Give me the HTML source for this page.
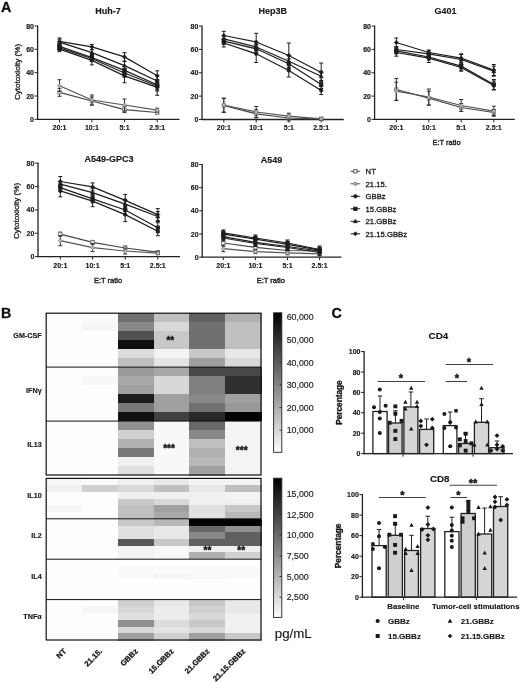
<!DOCTYPE html>
<html><head><meta charset="utf-8"><title>Figure</title>
<style>html,body{margin:0;padding:0;background:#fff}svg{display:block;font-family:"Liberation Sans",Arial,sans-serif}text:not([stroke]){stroke:#1a1a1a;stroke-width:.15px}</style>
</head><body>
<svg width="520" height="682" viewBox="0 0 520 682">
<rect width="520" height="682" fill="#ffffff"/>
<text x="108.0" y="13.9" font-size="9" font-weight="bold" text-anchor="middle" fill="#1a1a1a" >Huh-7</text>
<line x1="37.6" y1="25.5" x2="37.6" y2="119.9" stroke="#222" stroke-width="1.3"/>
<line x1="37.0" y1="119.3" x2="179.5" y2="119.3" stroke="#222" stroke-width="1.3"/>
<line x1="34.6" y1="119.3" x2="37.6" y2="119.3" stroke="#222" stroke-width="1"/>
<text x="34.0" y="121.8" font-size="7" font-weight="bold" text-anchor="end" fill="#1a1a1a" >0</text>
<line x1="34.6" y1="96.0" x2="37.6" y2="96.0" stroke="#222" stroke-width="1"/>
<text x="34.0" y="98.5" font-size="7" font-weight="bold" text-anchor="end" fill="#1a1a1a" >20</text>
<line x1="34.6" y1="72.7" x2="37.6" y2="72.7" stroke="#222" stroke-width="1"/>
<text x="34.0" y="75.2" font-size="7" font-weight="bold" text-anchor="end" fill="#1a1a1a" >40</text>
<line x1="34.6" y1="49.3" x2="37.6" y2="49.3" stroke="#222" stroke-width="1"/>
<text x="34.0" y="51.8" font-size="7" font-weight="bold" text-anchor="end" fill="#1a1a1a" >60</text>
<line x1="34.6" y1="26.0" x2="37.6" y2="26.0" stroke="#222" stroke-width="1"/>
<text x="34.0" y="28.5" font-size="7" font-weight="bold" text-anchor="end" fill="#1a1a1a" >80</text>
<line x1="59.5" y1="119.3" x2="59.5" y2="122.3" stroke="#222" stroke-width="1"/>
<text x="59.5" y="130.1" font-size="7" font-weight="bold" text-anchor="middle" fill="#1a1a1a" >20:1</text>
<line x1="91.9" y1="119.3" x2="91.9" y2="122.3" stroke="#222" stroke-width="1"/>
<text x="91.9" y="130.1" font-size="7" font-weight="bold" text-anchor="middle" fill="#1a1a1a" >10:1</text>
<line x1="124.5" y1="119.3" x2="124.5" y2="122.3" stroke="#222" stroke-width="1"/>
<text x="124.5" y="130.1" font-size="7" font-weight="bold" text-anchor="middle" fill="#1a1a1a" >5:1</text>
<line x1="157.2" y1="119.3" x2="157.2" y2="122.3" stroke="#222" stroke-width="1"/>
<text x="157.2" y="130.1" font-size="7" font-weight="bold" text-anchor="middle" fill="#1a1a1a" >2.5:1</text>
<text transform="translate(19.5,72) rotate(-90)" font-size="8.1" text-anchor="middle" fill="#1a1a1a" stroke="#1a1a1a" stroke-width="0.3">Cytotoxicity (%)</text>
<polyline points="59.5,92.3 91.9,101.0 124.5,109.6 157.2,112.5" fill="none" stroke="#484848" stroke-width="1.25"/>
<line x1="59.5" y1="88.3" x2="59.5" y2="96.3" stroke="#333" stroke-width="1"/>
<line x1="57.5" y1="88.3" x2="61.5" y2="88.3" stroke="#333" stroke-width="1"/>
<line x1="57.5" y1="96.3" x2="61.5" y2="96.3" stroke="#333" stroke-width="1"/>
<rect x="57.8" y="90.6" width="3.4" height="3.4" fill="#e8e8e8" stroke="#777" stroke-width="0.8"/>
<line x1="91.9" y1="97.0" x2="91.9" y2="105.0" stroke="#333" stroke-width="1"/>
<line x1="89.9" y1="97.0" x2="93.9" y2="97.0" stroke="#333" stroke-width="1"/>
<line x1="89.9" y1="105.0" x2="93.9" y2="105.0" stroke="#333" stroke-width="1"/>
<rect x="90.2" y="99.3" width="3.4" height="3.4" fill="#e8e8e8" stroke="#777" stroke-width="0.8"/>
<line x1="124.5" y1="106.6" x2="124.5" y2="112.6" stroke="#333" stroke-width="1"/>
<line x1="122.5" y1="106.6" x2="126.5" y2="106.6" stroke="#333" stroke-width="1"/>
<line x1="122.5" y1="112.6" x2="126.5" y2="112.6" stroke="#333" stroke-width="1"/>
<rect x="122.8" y="107.9" width="3.4" height="3.4" fill="#e8e8e8" stroke="#777" stroke-width="0.8"/>
<line x1="157.2" y1="111.0" x2="157.2" y2="114.0" stroke="#333" stroke-width="1"/>
<line x1="155.2" y1="111.0" x2="159.2" y2="111.0" stroke="#333" stroke-width="1"/>
<line x1="155.2" y1="114.0" x2="159.2" y2="114.0" stroke="#333" stroke-width="1"/>
<rect x="155.5" y="110.8" width="3.4" height="3.4" fill="#e8e8e8" stroke="#777" stroke-width="0.8"/>
<polyline points="59.5,85.7 91.9,100.0 124.5,105.0 157.2,110.2" fill="none" stroke="#555555" stroke-width="1.25"/>
<line x1="59.5" y1="79.7" x2="59.5" y2="91.7" stroke="#333" stroke-width="1"/>
<line x1="57.5" y1="79.7" x2="61.5" y2="79.7" stroke="#333" stroke-width="1"/>
<line x1="57.5" y1="91.7" x2="61.5" y2="91.7" stroke="#333" stroke-width="1"/>
<polygon points="59.5,83.7 57.5,85.7 59.5,87.7 61.5,85.7" fill="#bbb" stroke="#777" stroke-width="0.8"/>
<line x1="91.9" y1="95.0" x2="91.9" y2="105.0" stroke="#333" stroke-width="1"/>
<line x1="89.9" y1="95.0" x2="93.9" y2="95.0" stroke="#333" stroke-width="1"/>
<line x1="89.9" y1="105.0" x2="93.9" y2="105.0" stroke="#333" stroke-width="1"/>
<polygon points="91.9,98.0 89.9,100.0 91.9,102.0 93.9,100.0" fill="#bbb" stroke="#777" stroke-width="0.8"/>
<line x1="124.5" y1="99.0" x2="124.5" y2="111.0" stroke="#333" stroke-width="1"/>
<line x1="122.5" y1="99.0" x2="126.5" y2="99.0" stroke="#333" stroke-width="1"/>
<line x1="122.5" y1="111.0" x2="126.5" y2="111.0" stroke="#333" stroke-width="1"/>
<polygon points="124.5,103.0 122.5,105.0 124.5,107.0 126.5,105.0" fill="#bbb" stroke="#777" stroke-width="0.8"/>
<line x1="157.2" y1="108.2" x2="157.2" y2="112.2" stroke="#333" stroke-width="1"/>
<line x1="155.2" y1="108.2" x2="159.2" y2="108.2" stroke="#333" stroke-width="1"/>
<line x1="155.2" y1="112.2" x2="159.2" y2="112.2" stroke="#333" stroke-width="1"/>
<polygon points="157.2,108.2 155.2,110.2 157.2,112.2 159.2,110.2" fill="#bbb" stroke="#777" stroke-width="0.8"/>
<polyline points="59.5,49.2 91.9,60.4 124.5,75.8 157.2,87.3" fill="none" stroke="#1e1e1e" stroke-width="1.25"/>
<line x1="59.5" y1="46.7" x2="59.5" y2="51.7" stroke="#1e1e1e" stroke-width="1"/>
<line x1="57.5" y1="46.7" x2="61.5" y2="46.7" stroke="#1e1e1e" stroke-width="1"/>
<line x1="57.5" y1="51.7" x2="61.5" y2="51.7" stroke="#1e1e1e" stroke-width="1"/>
<circle cx="59.5" cy="49.2" r="1.7" fill="#1e1e1e" stroke="#1e1e1e" stroke-width="0.8"/>
<line x1="91.9" y1="55.9" x2="91.9" y2="64.9" stroke="#1e1e1e" stroke-width="1"/>
<line x1="89.9" y1="55.9" x2="93.9" y2="55.9" stroke="#1e1e1e" stroke-width="1"/>
<line x1="89.9" y1="64.9" x2="93.9" y2="64.9" stroke="#1e1e1e" stroke-width="1"/>
<circle cx="91.9" cy="60.4" r="1.7" fill="#1e1e1e" stroke="#1e1e1e" stroke-width="0.8"/>
<line x1="124.5" y1="68.8" x2="124.5" y2="82.8" stroke="#1e1e1e" stroke-width="1"/>
<line x1="122.5" y1="68.8" x2="126.5" y2="68.8" stroke="#1e1e1e" stroke-width="1"/>
<line x1="122.5" y1="82.8" x2="126.5" y2="82.8" stroke="#1e1e1e" stroke-width="1"/>
<circle cx="124.5" cy="75.8" r="1.7" fill="#1e1e1e" stroke="#1e1e1e" stroke-width="0.8"/>
<line x1="157.2" y1="79.3" x2="157.2" y2="95.3" stroke="#1e1e1e" stroke-width="1"/>
<line x1="155.2" y1="79.3" x2="159.2" y2="79.3" stroke="#1e1e1e" stroke-width="1"/>
<line x1="155.2" y1="95.3" x2="159.2" y2="95.3" stroke="#1e1e1e" stroke-width="1"/>
<circle cx="157.2" cy="87.3" r="1.7" fill="#1e1e1e" stroke="#1e1e1e" stroke-width="0.8"/>
<polyline points="59.5,47.9 91.9,58.5 124.5,73.0 157.2,86.0" fill="none" stroke="#1e1e1e" stroke-width="1.25"/>
<line x1="59.5" y1="45.4" x2="59.5" y2="50.4" stroke="#1e1e1e" stroke-width="1"/>
<line x1="57.5" y1="45.4" x2="61.5" y2="45.4" stroke="#1e1e1e" stroke-width="1"/>
<line x1="57.5" y1="50.4" x2="61.5" y2="50.4" stroke="#1e1e1e" stroke-width="1"/>
<rect x="57.8" y="46.2" width="3.4" height="3.4" fill="#1e1e1e" stroke="#1e1e1e" stroke-width="0.8"/>
<line x1="91.9" y1="55.5" x2="91.9" y2="61.5" stroke="#1e1e1e" stroke-width="1"/>
<line x1="89.9" y1="55.5" x2="93.9" y2="55.5" stroke="#1e1e1e" stroke-width="1"/>
<line x1="89.9" y1="61.5" x2="93.9" y2="61.5" stroke="#1e1e1e" stroke-width="1"/>
<rect x="90.2" y="56.8" width="3.4" height="3.4" fill="#1e1e1e" stroke="#1e1e1e" stroke-width="0.8"/>
<line x1="124.5" y1="69.0" x2="124.5" y2="77.0" stroke="#1e1e1e" stroke-width="1"/>
<line x1="122.5" y1="69.0" x2="126.5" y2="69.0" stroke="#1e1e1e" stroke-width="1"/>
<line x1="122.5" y1="77.0" x2="126.5" y2="77.0" stroke="#1e1e1e" stroke-width="1"/>
<rect x="122.8" y="71.3" width="3.4" height="3.4" fill="#1e1e1e" stroke="#1e1e1e" stroke-width="0.8"/>
<line x1="157.2" y1="81.0" x2="157.2" y2="91.0" stroke="#1e1e1e" stroke-width="1"/>
<line x1="155.2" y1="81.0" x2="159.2" y2="81.0" stroke="#1e1e1e" stroke-width="1"/>
<line x1="155.2" y1="91.0" x2="159.2" y2="91.0" stroke="#1e1e1e" stroke-width="1"/>
<rect x="155.5" y="84.3" width="3.4" height="3.4" fill="#1e1e1e" stroke="#1e1e1e" stroke-width="0.8"/>
<polyline points="59.5,46.3 91.9,57.5 124.5,70.4 157.2,84.8" fill="none" stroke="#1e1e1e" stroke-width="1.25"/>
<line x1="59.5" y1="43.8" x2="59.5" y2="48.8" stroke="#1e1e1e" stroke-width="1"/>
<line x1="57.5" y1="43.8" x2="61.5" y2="43.8" stroke="#1e1e1e" stroke-width="1"/>
<line x1="57.5" y1="48.8" x2="61.5" y2="48.8" stroke="#1e1e1e" stroke-width="1"/>
<rect x="57.8" y="44.6" width="3.4" height="3.4" fill="#1e1e1e" stroke="#1e1e1e" stroke-width="0.8"/>
<line x1="91.9" y1="54.5" x2="91.9" y2="60.5" stroke="#1e1e1e" stroke-width="1"/>
<line x1="89.9" y1="54.5" x2="93.9" y2="54.5" stroke="#1e1e1e" stroke-width="1"/>
<line x1="89.9" y1="60.5" x2="93.9" y2="60.5" stroke="#1e1e1e" stroke-width="1"/>
<rect x="90.2" y="55.8" width="3.4" height="3.4" fill="#1e1e1e" stroke="#1e1e1e" stroke-width="0.8"/>
<line x1="124.5" y1="66.4" x2="124.5" y2="74.4" stroke="#1e1e1e" stroke-width="1"/>
<line x1="122.5" y1="66.4" x2="126.5" y2="66.4" stroke="#1e1e1e" stroke-width="1"/>
<line x1="122.5" y1="74.4" x2="126.5" y2="74.4" stroke="#1e1e1e" stroke-width="1"/>
<rect x="122.8" y="68.7" width="3.4" height="3.4" fill="#1e1e1e" stroke="#1e1e1e" stroke-width="0.8"/>
<line x1="157.2" y1="79.8" x2="157.2" y2="89.8" stroke="#1e1e1e" stroke-width="1"/>
<line x1="155.2" y1="79.8" x2="159.2" y2="79.8" stroke="#1e1e1e" stroke-width="1"/>
<line x1="155.2" y1="89.8" x2="159.2" y2="89.8" stroke="#1e1e1e" stroke-width="1"/>
<rect x="155.5" y="83.1" width="3.4" height="3.4" fill="#1e1e1e" stroke="#1e1e1e" stroke-width="0.8"/>
<polyline points="59.5,42.2 91.9,52.7 124.5,65.6 157.2,81.0" fill="none" stroke="#1e1e1e" stroke-width="1.25"/>
<line x1="59.5" y1="39.2" x2="59.5" y2="45.2" stroke="#1e1e1e" stroke-width="1"/>
<line x1="57.5" y1="39.2" x2="61.5" y2="39.2" stroke="#1e1e1e" stroke-width="1"/>
<line x1="57.5" y1="45.2" x2="61.5" y2="45.2" stroke="#1e1e1e" stroke-width="1"/>
<polygon points="59.5,40.2 57.6,43.6 61.4,43.6" fill="#1e1e1e" stroke="#1e1e1e" stroke-width="0.8"/>
<line x1="91.9" y1="49.7" x2="91.9" y2="55.7" stroke="#1e1e1e" stroke-width="1"/>
<line x1="89.9" y1="49.7" x2="93.9" y2="49.7" stroke="#1e1e1e" stroke-width="1"/>
<line x1="89.9" y1="55.7" x2="93.9" y2="55.7" stroke="#1e1e1e" stroke-width="1"/>
<polygon points="91.9,50.7 90.0,54.1 93.8,54.1" fill="#1e1e1e" stroke="#1e1e1e" stroke-width="0.8"/>
<line x1="124.5" y1="61.6" x2="124.5" y2="69.6" stroke="#1e1e1e" stroke-width="1"/>
<line x1="122.5" y1="61.6" x2="126.5" y2="61.6" stroke="#1e1e1e" stroke-width="1"/>
<line x1="122.5" y1="69.6" x2="126.5" y2="69.6" stroke="#1e1e1e" stroke-width="1"/>
<polygon points="124.5,63.6 122.6,67.0 126.4,67.0" fill="#1e1e1e" stroke="#1e1e1e" stroke-width="0.8"/>
<line x1="157.2" y1="76.0" x2="157.2" y2="86.0" stroke="#1e1e1e" stroke-width="1"/>
<line x1="155.2" y1="76.0" x2="159.2" y2="76.0" stroke="#1e1e1e" stroke-width="1"/>
<line x1="155.2" y1="86.0" x2="159.2" y2="86.0" stroke="#1e1e1e" stroke-width="1"/>
<polygon points="157.2,79.0 155.3,82.4 159.1,82.4" fill="#1e1e1e" stroke="#1e1e1e" stroke-width="0.8"/>
<polyline points="59.5,41.4 91.9,46.9 124.5,56.9 157.2,75.8" fill="none" stroke="#1e1e1e" stroke-width="1.25"/>
<line x1="59.5" y1="38.0" x2="59.5" y2="44.8" stroke="#1e1e1e" stroke-width="1"/>
<line x1="57.5" y1="38.0" x2="61.5" y2="38.0" stroke="#1e1e1e" stroke-width="1"/>
<line x1="57.5" y1="44.8" x2="61.5" y2="44.8" stroke="#1e1e1e" stroke-width="1"/>
<polygon points="59.5,39.4 57.5,41.4 59.5,43.4 61.5,41.4" fill="#1e1e1e" stroke="#1e1e1e" stroke-width="0.8"/>
<line x1="91.9" y1="44.4" x2="91.9" y2="49.4" stroke="#1e1e1e" stroke-width="1"/>
<line x1="89.9" y1="44.4" x2="93.9" y2="44.4" stroke="#1e1e1e" stroke-width="1"/>
<line x1="89.9" y1="49.4" x2="93.9" y2="49.4" stroke="#1e1e1e" stroke-width="1"/>
<polygon points="91.9,44.9 89.9,46.9 91.9,48.9 93.9,46.9" fill="#1e1e1e" stroke="#1e1e1e" stroke-width="0.8"/>
<line x1="124.5" y1="52.7" x2="124.5" y2="61.1" stroke="#1e1e1e" stroke-width="1"/>
<line x1="122.5" y1="52.7" x2="126.5" y2="52.7" stroke="#1e1e1e" stroke-width="1"/>
<line x1="122.5" y1="61.1" x2="126.5" y2="61.1" stroke="#1e1e1e" stroke-width="1"/>
<polygon points="124.5,54.9 122.5,56.9 124.5,58.9 126.5,56.9" fill="#1e1e1e" stroke="#1e1e1e" stroke-width="0.8"/>
<line x1="157.2" y1="70.8" x2="157.2" y2="80.8" stroke="#1e1e1e" stroke-width="1"/>
<line x1="155.2" y1="70.8" x2="159.2" y2="70.8" stroke="#1e1e1e" stroke-width="1"/>
<line x1="155.2" y1="80.8" x2="159.2" y2="80.8" stroke="#1e1e1e" stroke-width="1"/>
<polygon points="157.2,73.8 155.2,75.8 157.2,77.8 159.2,75.8" fill="#1e1e1e" stroke="#1e1e1e" stroke-width="0.8"/>
<text x="272.8" y="13.9" font-size="9" font-weight="bold" text-anchor="middle" fill="#1a1a1a" >Hep3B</text>
<line x1="202.0" y1="25.5" x2="202.0" y2="120.1" stroke="#222" stroke-width="1.3"/>
<line x1="201.4" y1="119.5" x2="343.8" y2="119.5" stroke="#222" stroke-width="1.3"/>
<line x1="199.0" y1="119.5" x2="202.0" y2="119.5" stroke="#222" stroke-width="1"/>
<text x="198.4" y="122.0" font-size="7" font-weight="bold" text-anchor="end" fill="#1a1a1a" >0</text>
<line x1="199.0" y1="96.1" x2="202.0" y2="96.1" stroke="#222" stroke-width="1"/>
<text x="198.4" y="98.6" font-size="7" font-weight="bold" text-anchor="end" fill="#1a1a1a" >20</text>
<line x1="199.0" y1="72.8" x2="202.0" y2="72.8" stroke="#222" stroke-width="1"/>
<text x="198.4" y="75.2" font-size="7" font-weight="bold" text-anchor="end" fill="#1a1a1a" >40</text>
<line x1="199.0" y1="49.4" x2="202.0" y2="49.4" stroke="#222" stroke-width="1"/>
<text x="198.4" y="51.9" font-size="7" font-weight="bold" text-anchor="end" fill="#1a1a1a" >60</text>
<line x1="199.0" y1="26.0" x2="202.0" y2="26.0" stroke="#222" stroke-width="1"/>
<text x="198.4" y="28.5" font-size="7" font-weight="bold" text-anchor="end" fill="#1a1a1a" >80</text>
<line x1="223.8" y1="119.5" x2="223.8" y2="122.5" stroke="#222" stroke-width="1"/>
<text x="223.8" y="130.1" font-size="7" font-weight="bold" text-anchor="middle" fill="#1a1a1a" >20:1</text>
<line x1="256.2" y1="119.5" x2="256.2" y2="122.5" stroke="#222" stroke-width="1"/>
<text x="256.2" y="130.1" font-size="7" font-weight="bold" text-anchor="middle" fill="#1a1a1a" >10:1</text>
<line x1="288.8" y1="119.5" x2="288.8" y2="122.5" stroke="#222" stroke-width="1"/>
<text x="288.8" y="130.1" font-size="7" font-weight="bold" text-anchor="middle" fill="#1a1a1a" >5:1</text>
<line x1="321.2" y1="119.5" x2="321.2" y2="122.5" stroke="#222" stroke-width="1"/>
<text x="321.2" y="130.1" font-size="7" font-weight="bold" text-anchor="middle" fill="#1a1a1a" >2.5:1</text>
<polyline points="223.8,105.5 256.2,113.8 288.8,118.0 321.2,119.0" fill="none" stroke="#484848" stroke-width="1.25"/>
<line x1="223.8" y1="98.5" x2="223.8" y2="112.5" stroke="#333" stroke-width="1"/>
<line x1="221.8" y1="98.5" x2="225.8" y2="98.5" stroke="#333" stroke-width="1"/>
<line x1="221.8" y1="112.5" x2="225.8" y2="112.5" stroke="#333" stroke-width="1"/>
<rect x="222.1" y="103.8" width="3.4" height="3.4" fill="#e8e8e8" stroke="#777" stroke-width="0.8"/>
<line x1="256.2" y1="109.8" x2="256.2" y2="117.8" stroke="#333" stroke-width="1"/>
<line x1="254.2" y1="109.8" x2="258.2" y2="109.8" stroke="#333" stroke-width="1"/>
<line x1="254.2" y1="117.8" x2="258.2" y2="117.8" stroke="#333" stroke-width="1"/>
<rect x="254.5" y="112.0" width="3.4" height="3.4" fill="#e8e8e8" stroke="#777" stroke-width="0.8"/>
<line x1="288.8" y1="115.0" x2="288.8" y2="121.0" stroke="#333" stroke-width="1"/>
<line x1="286.8" y1="115.0" x2="290.8" y2="115.0" stroke="#333" stroke-width="1"/>
<line x1="286.8" y1="121.0" x2="290.8" y2="121.0" stroke="#333" stroke-width="1"/>
<rect x="287.1" y="116.3" width="3.4" height="3.4" fill="#e8e8e8" stroke="#777" stroke-width="0.8"/>
<line x1="321.2" y1="117.5" x2="321.2" y2="120.5" stroke="#333" stroke-width="1"/>
<line x1="319.2" y1="117.5" x2="323.2" y2="117.5" stroke="#333" stroke-width="1"/>
<line x1="319.2" y1="120.5" x2="323.2" y2="120.5" stroke="#333" stroke-width="1"/>
<rect x="319.5" y="117.3" width="3.4" height="3.4" fill="#e8e8e8" stroke="#777" stroke-width="0.8"/>
<polyline points="223.8,105.0 256.2,112.0 288.8,116.2 321.2,118.8" fill="none" stroke="#555555" stroke-width="1.25"/>
<line x1="223.8" y1="98.0" x2="223.8" y2="112.0" stroke="#333" stroke-width="1"/>
<line x1="221.8" y1="98.0" x2="225.8" y2="98.0" stroke="#333" stroke-width="1"/>
<line x1="221.8" y1="112.0" x2="225.8" y2="112.0" stroke="#333" stroke-width="1"/>
<polygon points="223.8,103.0 221.8,105.0 223.8,107.0 225.8,105.0" fill="#bbb" stroke="#777" stroke-width="0.8"/>
<line x1="256.2" y1="106.5" x2="256.2" y2="117.5" stroke="#333" stroke-width="1"/>
<line x1="254.2" y1="106.5" x2="258.2" y2="106.5" stroke="#333" stroke-width="1"/>
<line x1="254.2" y1="117.5" x2="258.2" y2="117.5" stroke="#333" stroke-width="1"/>
<polygon points="256.2,110.0 254.2,112.0 256.2,114.0 258.2,112.0" fill="#bbb" stroke="#777" stroke-width="0.8"/>
<line x1="288.8" y1="113.2" x2="288.8" y2="119.2" stroke="#333" stroke-width="1"/>
<line x1="286.8" y1="113.2" x2="290.8" y2="113.2" stroke="#333" stroke-width="1"/>
<line x1="286.8" y1="119.2" x2="290.8" y2="119.2" stroke="#333" stroke-width="1"/>
<polygon points="288.8,114.2 286.8,116.2 288.8,118.3 290.8,116.2" fill="#bbb" stroke="#777" stroke-width="0.8"/>
<line x1="321.2" y1="117.3" x2="321.2" y2="120.3" stroke="#333" stroke-width="1"/>
<line x1="319.2" y1="117.3" x2="323.2" y2="117.3" stroke="#333" stroke-width="1"/>
<line x1="319.2" y1="120.3" x2="323.2" y2="120.3" stroke="#333" stroke-width="1"/>
<polygon points="321.2,116.8 319.2,118.8 321.2,120.8 323.2,118.8" fill="#bbb" stroke="#777" stroke-width="0.8"/>
<polyline points="223.8,43.0 256.2,53.8 288.8,70.5 321.2,90.5" fill="none" stroke="#1e1e1e" stroke-width="1.25"/>
<line x1="223.8" y1="39.0" x2="223.8" y2="47.0" stroke="#1e1e1e" stroke-width="1"/>
<line x1="221.8" y1="39.0" x2="225.8" y2="39.0" stroke="#1e1e1e" stroke-width="1"/>
<line x1="221.8" y1="47.0" x2="225.8" y2="47.0" stroke="#1e1e1e" stroke-width="1"/>
<circle cx="223.8" cy="43.0" r="1.7" fill="#1e1e1e" stroke="#1e1e1e" stroke-width="0.8"/>
<line x1="256.2" y1="45.0" x2="256.2" y2="62.5" stroke="#1e1e1e" stroke-width="1"/>
<line x1="254.2" y1="45.0" x2="258.2" y2="45.0" stroke="#1e1e1e" stroke-width="1"/>
<line x1="254.2" y1="62.5" x2="258.2" y2="62.5" stroke="#1e1e1e" stroke-width="1"/>
<circle cx="256.2" cy="53.8" r="1.7" fill="#1e1e1e" stroke="#1e1e1e" stroke-width="0.8"/>
<line x1="288.8" y1="64.0" x2="288.8" y2="77.0" stroke="#1e1e1e" stroke-width="1"/>
<line x1="286.8" y1="64.0" x2="290.8" y2="64.0" stroke="#1e1e1e" stroke-width="1"/>
<line x1="286.8" y1="77.0" x2="290.8" y2="77.0" stroke="#1e1e1e" stroke-width="1"/>
<circle cx="288.8" cy="70.5" r="1.7" fill="#1e1e1e" stroke="#1e1e1e" stroke-width="0.8"/>
<line x1="321.2" y1="86.5" x2="321.2" y2="94.5" stroke="#1e1e1e" stroke-width="1"/>
<line x1="319.2" y1="86.5" x2="323.2" y2="86.5" stroke="#1e1e1e" stroke-width="1"/>
<line x1="319.2" y1="94.5" x2="323.2" y2="94.5" stroke="#1e1e1e" stroke-width="1"/>
<circle cx="321.2" cy="90.5" r="1.7" fill="#1e1e1e" stroke="#1e1e1e" stroke-width="0.8"/>
<polyline points="223.8,41.2 256.2,48.8 288.8,63.8 321.2,84.5" fill="none" stroke="#1e1e1e" stroke-width="1.25"/>
<line x1="223.8" y1="38.2" x2="223.8" y2="44.2" stroke="#1e1e1e" stroke-width="1"/>
<line x1="221.8" y1="38.2" x2="225.8" y2="38.2" stroke="#1e1e1e" stroke-width="1"/>
<line x1="221.8" y1="44.2" x2="225.8" y2="44.2" stroke="#1e1e1e" stroke-width="1"/>
<rect x="222.1" y="39.5" width="3.4" height="3.4" fill="#1e1e1e" stroke="#1e1e1e" stroke-width="0.8"/>
<line x1="256.2" y1="44.8" x2="256.2" y2="52.8" stroke="#1e1e1e" stroke-width="1"/>
<line x1="254.2" y1="44.8" x2="258.2" y2="44.8" stroke="#1e1e1e" stroke-width="1"/>
<line x1="254.2" y1="52.8" x2="258.2" y2="52.8" stroke="#1e1e1e" stroke-width="1"/>
<rect x="254.5" y="47.0" width="3.4" height="3.4" fill="#1e1e1e" stroke="#1e1e1e" stroke-width="0.8"/>
<line x1="288.8" y1="58.8" x2="288.8" y2="68.8" stroke="#1e1e1e" stroke-width="1"/>
<line x1="286.8" y1="58.8" x2="290.8" y2="58.8" stroke="#1e1e1e" stroke-width="1"/>
<line x1="286.8" y1="68.8" x2="290.8" y2="68.8" stroke="#1e1e1e" stroke-width="1"/>
<rect x="287.1" y="62.0" width="3.4" height="3.4" fill="#1e1e1e" stroke="#1e1e1e" stroke-width="0.8"/>
<line x1="321.2" y1="80.5" x2="321.2" y2="88.5" stroke="#1e1e1e" stroke-width="1"/>
<line x1="319.2" y1="80.5" x2="323.2" y2="80.5" stroke="#1e1e1e" stroke-width="1"/>
<line x1="319.2" y1="88.5" x2="323.2" y2="88.5" stroke="#1e1e1e" stroke-width="1"/>
<rect x="319.5" y="82.8" width="3.4" height="3.4" fill="#1e1e1e" stroke="#1e1e1e" stroke-width="0.8"/>
<polyline points="223.8,38.8 256.2,47.0 288.8,61.2 321.2,76.2" fill="none" stroke="#1e1e1e" stroke-width="1.25"/>
<line x1="223.8" y1="35.8" x2="223.8" y2="41.8" stroke="#1e1e1e" stroke-width="1"/>
<line x1="221.8" y1="35.8" x2="225.8" y2="35.8" stroke="#1e1e1e" stroke-width="1"/>
<line x1="221.8" y1="41.8" x2="225.8" y2="41.8" stroke="#1e1e1e" stroke-width="1"/>
<polygon points="223.8,36.8 221.9,40.2 225.7,40.2" fill="#1e1e1e" stroke="#1e1e1e" stroke-width="0.8"/>
<line x1="256.2" y1="43.0" x2="256.2" y2="51.0" stroke="#1e1e1e" stroke-width="1"/>
<line x1="254.2" y1="43.0" x2="258.2" y2="43.0" stroke="#1e1e1e" stroke-width="1"/>
<line x1="254.2" y1="51.0" x2="258.2" y2="51.0" stroke="#1e1e1e" stroke-width="1"/>
<polygon points="256.2,45.0 254.3,48.4 258.1,48.4" fill="#1e1e1e" stroke="#1e1e1e" stroke-width="0.8"/>
<line x1="288.8" y1="55.2" x2="288.8" y2="67.2" stroke="#1e1e1e" stroke-width="1"/>
<line x1="286.8" y1="55.2" x2="290.8" y2="55.2" stroke="#1e1e1e" stroke-width="1"/>
<line x1="286.8" y1="67.2" x2="290.8" y2="67.2" stroke="#1e1e1e" stroke-width="1"/>
<polygon points="288.8,59.3 286.9,62.7 290.7,62.7" fill="#1e1e1e" stroke="#1e1e1e" stroke-width="0.8"/>
<line x1="321.2" y1="71.2" x2="321.2" y2="81.2" stroke="#1e1e1e" stroke-width="1"/>
<line x1="319.2" y1="71.2" x2="323.2" y2="71.2" stroke="#1e1e1e" stroke-width="1"/>
<line x1="319.2" y1="81.2" x2="323.2" y2="81.2" stroke="#1e1e1e" stroke-width="1"/>
<polygon points="321.2,74.3 319.3,77.7 323.1,77.7" fill="#1e1e1e" stroke="#1e1e1e" stroke-width="0.8"/>
<polyline points="223.8,35.5 256.2,42.0 288.8,55.5 321.2,72.5" fill="none" stroke="#1e1e1e" stroke-width="1.25"/>
<line x1="223.8" y1="31.3" x2="223.8" y2="39.7" stroke="#1e1e1e" stroke-width="1"/>
<line x1="221.8" y1="31.3" x2="225.8" y2="31.3" stroke="#1e1e1e" stroke-width="1"/>
<line x1="221.8" y1="39.7" x2="225.8" y2="39.7" stroke="#1e1e1e" stroke-width="1"/>
<polygon points="223.8,33.5 221.8,35.5 223.8,37.5 225.8,35.5" fill="#1e1e1e" stroke="#1e1e1e" stroke-width="0.8"/>
<line x1="256.2" y1="33.3" x2="256.2" y2="50.7" stroke="#1e1e1e" stroke-width="1"/>
<line x1="254.2" y1="33.3" x2="258.2" y2="33.3" stroke="#1e1e1e" stroke-width="1"/>
<line x1="254.2" y1="50.7" x2="258.2" y2="50.7" stroke="#1e1e1e" stroke-width="1"/>
<polygon points="256.2,40.0 254.2,42.0 256.2,44.0 258.2,42.0" fill="#1e1e1e" stroke="#1e1e1e" stroke-width="0.8"/>
<line x1="288.8" y1="43.0" x2="288.8" y2="68.0" stroke="#1e1e1e" stroke-width="1"/>
<line x1="286.8" y1="43.0" x2="290.8" y2="43.0" stroke="#1e1e1e" stroke-width="1"/>
<line x1="286.8" y1="68.0" x2="290.8" y2="68.0" stroke="#1e1e1e" stroke-width="1"/>
<polygon points="288.8,53.5 286.8,55.5 288.8,57.5 290.8,55.5" fill="#1e1e1e" stroke="#1e1e1e" stroke-width="0.8"/>
<line x1="321.2" y1="63.0" x2="321.2" y2="82.0" stroke="#1e1e1e" stroke-width="1"/>
<line x1="319.2" y1="63.0" x2="323.2" y2="63.0" stroke="#1e1e1e" stroke-width="1"/>
<line x1="319.2" y1="82.0" x2="323.2" y2="82.0" stroke="#1e1e1e" stroke-width="1"/>
<polygon points="321.2,70.5 319.2,72.5 321.2,74.5 323.2,72.5" fill="#1e1e1e" stroke="#1e1e1e" stroke-width="0.8"/>
<text x="445.4" y="13.9" font-size="9" font-weight="bold" text-anchor="middle" fill="#1a1a1a" >G401</text>
<line x1="374.6" y1="25.5" x2="374.6" y2="120.0" stroke="#222" stroke-width="1.3"/>
<line x1="374.0" y1="119.4" x2="514.8" y2="119.4" stroke="#222" stroke-width="1.3"/>
<line x1="371.6" y1="119.4" x2="374.6" y2="119.4" stroke="#222" stroke-width="1"/>
<text x="371.0" y="121.9" font-size="7" font-weight="bold" text-anchor="end" fill="#1a1a1a" >0</text>
<line x1="371.6" y1="96.1" x2="374.6" y2="96.1" stroke="#222" stroke-width="1"/>
<text x="371.0" y="98.6" font-size="7" font-weight="bold" text-anchor="end" fill="#1a1a1a" >20</text>
<line x1="371.6" y1="72.7" x2="374.6" y2="72.7" stroke="#222" stroke-width="1"/>
<text x="371.0" y="75.2" font-size="7" font-weight="bold" text-anchor="end" fill="#1a1a1a" >40</text>
<line x1="371.6" y1="49.4" x2="374.6" y2="49.4" stroke="#222" stroke-width="1"/>
<text x="371.0" y="51.9" font-size="7" font-weight="bold" text-anchor="end" fill="#1a1a1a" >60</text>
<line x1="371.6" y1="26.0" x2="374.6" y2="26.0" stroke="#222" stroke-width="1"/>
<text x="371.0" y="28.5" font-size="7" font-weight="bold" text-anchor="end" fill="#1a1a1a" >80</text>
<line x1="396.3" y1="119.4" x2="396.3" y2="122.4" stroke="#222" stroke-width="1"/>
<text x="396.3" y="130.1" font-size="7" font-weight="bold" text-anchor="middle" fill="#1a1a1a" >20:1</text>
<line x1="428.8" y1="119.4" x2="428.8" y2="122.4" stroke="#222" stroke-width="1"/>
<text x="428.8" y="130.1" font-size="7" font-weight="bold" text-anchor="middle" fill="#1a1a1a" >10:1</text>
<line x1="461.2" y1="119.4" x2="461.2" y2="122.4" stroke="#222" stroke-width="1"/>
<text x="461.2" y="130.1" font-size="7" font-weight="bold" text-anchor="middle" fill="#1a1a1a" >5:1</text>
<line x1="493.8" y1="119.4" x2="493.8" y2="122.4" stroke="#222" stroke-width="1"/>
<text x="493.8" y="130.1" font-size="7" font-weight="bold" text-anchor="middle" fill="#1a1a1a" >2.5:1</text>
<text x="446.6" y="144.6" font-size="7.5" font-weight="normal" text-anchor="middle" fill="#1a1a1a" stroke="#1a1a1a" stroke-width="0.35">E:T ratio</text>
<polyline points="396.3,89.5 428.8,98.2 461.2,107.5 493.8,112.5" fill="none" stroke="#484848" stroke-width="1.25"/>
<line x1="396.3" y1="78.5" x2="396.3" y2="100.5" stroke="#333" stroke-width="1"/>
<line x1="394.3" y1="78.5" x2="398.3" y2="78.5" stroke="#333" stroke-width="1"/>
<line x1="394.3" y1="100.5" x2="398.3" y2="100.5" stroke="#333" stroke-width="1"/>
<rect x="394.6" y="87.8" width="3.4" height="3.4" fill="#e8e8e8" stroke="#777" stroke-width="0.8"/>
<line x1="428.8" y1="91.2" x2="428.8" y2="105.2" stroke="#333" stroke-width="1"/>
<line x1="426.8" y1="91.2" x2="430.8" y2="91.2" stroke="#333" stroke-width="1"/>
<line x1="426.8" y1="105.2" x2="430.8" y2="105.2" stroke="#333" stroke-width="1"/>
<rect x="427.1" y="96.5" width="3.4" height="3.4" fill="#e8e8e8" stroke="#777" stroke-width="0.8"/>
<line x1="461.2" y1="103.5" x2="461.2" y2="111.5" stroke="#333" stroke-width="1"/>
<line x1="459.2" y1="103.5" x2="463.2" y2="103.5" stroke="#333" stroke-width="1"/>
<line x1="459.2" y1="111.5" x2="463.2" y2="111.5" stroke="#333" stroke-width="1"/>
<rect x="459.5" y="105.8" width="3.4" height="3.4" fill="#e8e8e8" stroke="#777" stroke-width="0.8"/>
<line x1="493.8" y1="109.5" x2="493.8" y2="115.5" stroke="#333" stroke-width="1"/>
<line x1="491.8" y1="109.5" x2="495.8" y2="109.5" stroke="#333" stroke-width="1"/>
<line x1="491.8" y1="115.5" x2="495.8" y2="115.5" stroke="#333" stroke-width="1"/>
<rect x="492.1" y="110.8" width="3.4" height="3.4" fill="#e8e8e8" stroke="#777" stroke-width="0.8"/>
<polyline points="396.3,91.2 428.8,97.0 461.2,105.5 493.8,111.2" fill="none" stroke="#555555" stroke-width="1.25"/>
<line x1="396.3" y1="82.2" x2="396.3" y2="100.2" stroke="#333" stroke-width="1"/>
<line x1="394.3" y1="82.2" x2="398.3" y2="82.2" stroke="#333" stroke-width="1"/>
<line x1="394.3" y1="100.2" x2="398.3" y2="100.2" stroke="#333" stroke-width="1"/>
<polygon points="396.3,89.2 394.3,91.2 396.3,93.3 398.3,91.2" fill="#bbb" stroke="#777" stroke-width="0.8"/>
<line x1="428.8" y1="89.0" x2="428.8" y2="105.0" stroke="#333" stroke-width="1"/>
<line x1="426.8" y1="89.0" x2="430.8" y2="89.0" stroke="#333" stroke-width="1"/>
<line x1="426.8" y1="105.0" x2="430.8" y2="105.0" stroke="#333" stroke-width="1"/>
<polygon points="428.8,95.0 426.8,97.0 428.8,99.0 430.8,97.0" fill="#bbb" stroke="#777" stroke-width="0.8"/>
<line x1="461.2" y1="99.5" x2="461.2" y2="111.5" stroke="#333" stroke-width="1"/>
<line x1="459.2" y1="99.5" x2="463.2" y2="99.5" stroke="#333" stroke-width="1"/>
<line x1="459.2" y1="111.5" x2="463.2" y2="111.5" stroke="#333" stroke-width="1"/>
<polygon points="461.2,103.5 459.2,105.5 461.2,107.5 463.2,105.5" fill="#bbb" stroke="#777" stroke-width="0.8"/>
<line x1="493.8" y1="106.2" x2="493.8" y2="116.2" stroke="#333" stroke-width="1"/>
<line x1="491.8" y1="106.2" x2="495.8" y2="106.2" stroke="#333" stroke-width="1"/>
<line x1="491.8" y1="116.2" x2="495.8" y2="116.2" stroke="#333" stroke-width="1"/>
<polygon points="493.8,109.2 491.8,111.2 493.8,113.3 495.8,111.2" fill="#bbb" stroke="#777" stroke-width="0.8"/>
<polyline points="396.3,52.5 428.8,58.2 461.2,67.5 493.8,85.5" fill="none" stroke="#1e1e1e" stroke-width="1.25"/>
<line x1="396.3" y1="48.8" x2="396.3" y2="56.2" stroke="#1e1e1e" stroke-width="1"/>
<line x1="394.3" y1="48.8" x2="398.3" y2="48.8" stroke="#1e1e1e" stroke-width="1"/>
<line x1="394.3" y1="56.2" x2="398.3" y2="56.2" stroke="#1e1e1e" stroke-width="1"/>
<circle cx="396.3" cy="52.5" r="1.7" fill="#1e1e1e" stroke="#1e1e1e" stroke-width="0.8"/>
<line x1="428.8" y1="54.0" x2="428.8" y2="62.5" stroke="#1e1e1e" stroke-width="1"/>
<line x1="426.8" y1="54.0" x2="430.8" y2="54.0" stroke="#1e1e1e" stroke-width="1"/>
<line x1="426.8" y1="62.5" x2="430.8" y2="62.5" stroke="#1e1e1e" stroke-width="1"/>
<circle cx="428.8" cy="58.2" r="1.7" fill="#1e1e1e" stroke="#1e1e1e" stroke-width="0.8"/>
<line x1="461.2" y1="63.8" x2="461.2" y2="71.2" stroke="#1e1e1e" stroke-width="1"/>
<line x1="459.2" y1="63.8" x2="463.2" y2="63.8" stroke="#1e1e1e" stroke-width="1"/>
<line x1="459.2" y1="71.2" x2="463.2" y2="71.2" stroke="#1e1e1e" stroke-width="1"/>
<circle cx="461.2" cy="67.5" r="1.7" fill="#1e1e1e" stroke="#1e1e1e" stroke-width="0.8"/>
<line x1="493.8" y1="81.0" x2="493.8" y2="90.0" stroke="#1e1e1e" stroke-width="1"/>
<line x1="491.8" y1="81.0" x2="495.8" y2="81.0" stroke="#1e1e1e" stroke-width="1"/>
<line x1="491.8" y1="90.0" x2="495.8" y2="90.0" stroke="#1e1e1e" stroke-width="1"/>
<circle cx="493.8" cy="85.5" r="1.7" fill="#1e1e1e" stroke="#1e1e1e" stroke-width="0.8"/>
<polyline points="396.3,50.8 428.8,57.0 461.2,66.2 493.8,84.5" fill="none" stroke="#1e1e1e" stroke-width="1.25"/>
<line x1="396.3" y1="47.8" x2="396.3" y2="53.8" stroke="#1e1e1e" stroke-width="1"/>
<line x1="394.3" y1="47.8" x2="398.3" y2="47.8" stroke="#1e1e1e" stroke-width="1"/>
<line x1="394.3" y1="53.8" x2="398.3" y2="53.8" stroke="#1e1e1e" stroke-width="1"/>
<rect x="394.6" y="49.0" width="3.4" height="3.4" fill="#1e1e1e" stroke="#1e1e1e" stroke-width="0.8"/>
<line x1="428.8" y1="54.0" x2="428.8" y2="60.0" stroke="#1e1e1e" stroke-width="1"/>
<line x1="426.8" y1="54.0" x2="430.8" y2="54.0" stroke="#1e1e1e" stroke-width="1"/>
<line x1="426.8" y1="60.0" x2="430.8" y2="60.0" stroke="#1e1e1e" stroke-width="1"/>
<rect x="427.1" y="55.3" width="3.4" height="3.4" fill="#1e1e1e" stroke="#1e1e1e" stroke-width="0.8"/>
<line x1="461.2" y1="62.2" x2="461.2" y2="70.2" stroke="#1e1e1e" stroke-width="1"/>
<line x1="459.2" y1="62.2" x2="463.2" y2="62.2" stroke="#1e1e1e" stroke-width="1"/>
<line x1="459.2" y1="70.2" x2="463.2" y2="70.2" stroke="#1e1e1e" stroke-width="1"/>
<rect x="459.5" y="64.5" width="3.4" height="3.4" fill="#1e1e1e" stroke="#1e1e1e" stroke-width="0.8"/>
<line x1="493.8" y1="79.5" x2="493.8" y2="89.5" stroke="#1e1e1e" stroke-width="1"/>
<line x1="491.8" y1="79.5" x2="495.8" y2="79.5" stroke="#1e1e1e" stroke-width="1"/>
<line x1="491.8" y1="89.5" x2="495.8" y2="89.5" stroke="#1e1e1e" stroke-width="1"/>
<rect x="492.1" y="82.8" width="3.4" height="3.4" fill="#1e1e1e" stroke="#1e1e1e" stroke-width="0.8"/>
<polyline points="396.3,49.5 428.8,53.8 461.2,59.5 493.8,71.2" fill="none" stroke="#1e1e1e" stroke-width="1.25"/>
<line x1="396.3" y1="46.5" x2="396.3" y2="52.5" stroke="#1e1e1e" stroke-width="1"/>
<line x1="394.3" y1="46.5" x2="398.3" y2="46.5" stroke="#1e1e1e" stroke-width="1"/>
<line x1="394.3" y1="52.5" x2="398.3" y2="52.5" stroke="#1e1e1e" stroke-width="1"/>
<polygon points="396.3,47.5 394.4,50.9 398.2,50.9" fill="#1e1e1e" stroke="#1e1e1e" stroke-width="0.8"/>
<line x1="428.8" y1="50.8" x2="428.8" y2="56.8" stroke="#1e1e1e" stroke-width="1"/>
<line x1="426.8" y1="50.8" x2="430.8" y2="50.8" stroke="#1e1e1e" stroke-width="1"/>
<line x1="426.8" y1="56.8" x2="430.8" y2="56.8" stroke="#1e1e1e" stroke-width="1"/>
<polygon points="428.8,51.8 426.9,55.2 430.7,55.2" fill="#1e1e1e" stroke="#1e1e1e" stroke-width="0.8"/>
<line x1="461.2" y1="54.5" x2="461.2" y2="64.5" stroke="#1e1e1e" stroke-width="1"/>
<line x1="459.2" y1="54.5" x2="463.2" y2="54.5" stroke="#1e1e1e" stroke-width="1"/>
<line x1="459.2" y1="64.5" x2="463.2" y2="64.5" stroke="#1e1e1e" stroke-width="1"/>
<polygon points="461.2,57.5 459.3,60.9 463.1,60.9" fill="#1e1e1e" stroke="#1e1e1e" stroke-width="0.8"/>
<line x1="493.8" y1="66.2" x2="493.8" y2="76.2" stroke="#1e1e1e" stroke-width="1"/>
<line x1="491.8" y1="66.2" x2="495.8" y2="66.2" stroke="#1e1e1e" stroke-width="1"/>
<line x1="491.8" y1="76.2" x2="495.8" y2="76.2" stroke="#1e1e1e" stroke-width="1"/>
<polygon points="493.8,69.3 491.9,72.7 495.7,72.7" fill="#1e1e1e" stroke="#1e1e1e" stroke-width="0.8"/>
<polyline points="396.3,42.5 428.8,52.5 461.2,58.2 493.8,70.0" fill="none" stroke="#1e1e1e" stroke-width="1.25"/>
<line x1="396.3" y1="38.0" x2="396.3" y2="47.0" stroke="#1e1e1e" stroke-width="1"/>
<line x1="394.3" y1="38.0" x2="398.3" y2="38.0" stroke="#1e1e1e" stroke-width="1"/>
<line x1="394.3" y1="47.0" x2="398.3" y2="47.0" stroke="#1e1e1e" stroke-width="1"/>
<polygon points="396.3,40.5 394.3,42.5 396.3,44.5 398.3,42.5" fill="#1e1e1e" stroke="#1e1e1e" stroke-width="0.8"/>
<line x1="428.8" y1="50.0" x2="428.8" y2="55.0" stroke="#1e1e1e" stroke-width="1"/>
<line x1="426.8" y1="50.0" x2="430.8" y2="50.0" stroke="#1e1e1e" stroke-width="1"/>
<line x1="426.8" y1="55.0" x2="430.8" y2="55.0" stroke="#1e1e1e" stroke-width="1"/>
<polygon points="428.8,50.5 426.8,52.5 428.8,54.5 430.8,52.5" fill="#1e1e1e" stroke="#1e1e1e" stroke-width="0.8"/>
<line x1="461.2" y1="53.8" x2="461.2" y2="62.8" stroke="#1e1e1e" stroke-width="1"/>
<line x1="459.2" y1="53.8" x2="463.2" y2="53.8" stroke="#1e1e1e" stroke-width="1"/>
<line x1="459.2" y1="62.8" x2="463.2" y2="62.8" stroke="#1e1e1e" stroke-width="1"/>
<polygon points="461.2,56.2 459.2,58.2 461.2,60.3 463.2,58.2" fill="#1e1e1e" stroke="#1e1e1e" stroke-width="0.8"/>
<line x1="493.8" y1="64.5" x2="493.8" y2="75.5" stroke="#1e1e1e" stroke-width="1"/>
<line x1="491.8" y1="64.5" x2="495.8" y2="64.5" stroke="#1e1e1e" stroke-width="1"/>
<line x1="491.8" y1="75.5" x2="495.8" y2="75.5" stroke="#1e1e1e" stroke-width="1"/>
<polygon points="493.8,68.0 491.8,70.0 493.8,72.0 495.8,70.0" fill="#1e1e1e" stroke="#1e1e1e" stroke-width="0.8"/>
<text x="109.0" y="162.2" font-size="9" font-weight="bold" text-anchor="middle" fill="#1a1a1a" >A549-GPC3</text>
<line x1="38.0" y1="162.6" x2="38.0" y2="257.2" stroke="#222" stroke-width="1.3"/>
<line x1="37.4" y1="256.6" x2="180.0" y2="256.6" stroke="#222" stroke-width="1.3"/>
<line x1="35.0" y1="256.6" x2="38.0" y2="256.6" stroke="#222" stroke-width="1"/>
<text x="34.4" y="259.1" font-size="7" font-weight="bold" text-anchor="end" fill="#1a1a1a" >0</text>
<line x1="35.0" y1="233.2" x2="38.0" y2="233.2" stroke="#222" stroke-width="1"/>
<text x="34.4" y="235.7" font-size="7" font-weight="bold" text-anchor="end" fill="#1a1a1a" >20</text>
<line x1="35.0" y1="209.9" x2="38.0" y2="209.9" stroke="#222" stroke-width="1"/>
<text x="34.4" y="212.4" font-size="7" font-weight="bold" text-anchor="end" fill="#1a1a1a" >40</text>
<line x1="35.0" y1="186.5" x2="38.0" y2="186.5" stroke="#222" stroke-width="1"/>
<text x="34.4" y="189.0" font-size="7" font-weight="bold" text-anchor="end" fill="#1a1a1a" >60</text>
<line x1="35.0" y1="163.1" x2="38.0" y2="163.1" stroke="#222" stroke-width="1"/>
<text x="34.4" y="165.6" font-size="7" font-weight="bold" text-anchor="end" fill="#1a1a1a" >80</text>
<line x1="60.3" y1="256.6" x2="60.3" y2="259.6" stroke="#222" stroke-width="1"/>
<text x="60.3" y="267.5" font-size="7" font-weight="bold" text-anchor="middle" fill="#1a1a1a" >20:1</text>
<line x1="92.6" y1="256.6" x2="92.6" y2="259.6" stroke="#222" stroke-width="1"/>
<text x="92.6" y="267.5" font-size="7" font-weight="bold" text-anchor="middle" fill="#1a1a1a" >10:1</text>
<line x1="125.2" y1="256.6" x2="125.2" y2="259.6" stroke="#222" stroke-width="1"/>
<text x="125.2" y="267.5" font-size="7" font-weight="bold" text-anchor="middle" fill="#1a1a1a" >5:1</text>
<line x1="157.8" y1="256.6" x2="157.8" y2="259.6" stroke="#222" stroke-width="1"/>
<text x="157.8" y="267.5" font-size="7" font-weight="bold" text-anchor="middle" fill="#1a1a1a" >2.5:1</text>
<text transform="translate(19.3,211) rotate(-90)" font-size="8.1" text-anchor="middle" fill="#1a1a1a" stroke="#1a1a1a" stroke-width="0.3">Cytotoxicity (%)</text>
<text x="108.0" y="282.5" font-size="7.5" font-weight="normal" text-anchor="middle" fill="#1a1a1a" stroke="#1a1a1a" stroke-width="0.35">E:T ratio</text>
<polyline points="60.3,234.1 92.6,242.4 125.2,248.0 157.8,252.1" fill="none" stroke="#484848" stroke-width="1.25"/>
<line x1="60.3" y1="232.1" x2="60.3" y2="236.1" stroke="#333" stroke-width="1"/>
<line x1="58.3" y1="232.1" x2="62.3" y2="232.1" stroke="#333" stroke-width="1"/>
<line x1="58.3" y1="236.1" x2="62.3" y2="236.1" stroke="#333" stroke-width="1"/>
<rect x="58.6" y="232.4" width="3.4" height="3.4" fill="#e8e8e8" stroke="#777" stroke-width="0.8"/>
<line x1="92.6" y1="240.4" x2="92.6" y2="244.4" stroke="#333" stroke-width="1"/>
<line x1="90.6" y1="240.4" x2="94.6" y2="240.4" stroke="#333" stroke-width="1"/>
<line x1="90.6" y1="244.4" x2="94.6" y2="244.4" stroke="#333" stroke-width="1"/>
<rect x="90.9" y="240.7" width="3.4" height="3.4" fill="#e8e8e8" stroke="#777" stroke-width="0.8"/>
<line x1="125.2" y1="246.0" x2="125.2" y2="250.0" stroke="#333" stroke-width="1"/>
<line x1="123.2" y1="246.0" x2="127.2" y2="246.0" stroke="#333" stroke-width="1"/>
<line x1="123.2" y1="250.0" x2="127.2" y2="250.0" stroke="#333" stroke-width="1"/>
<rect x="123.5" y="246.3" width="3.4" height="3.4" fill="#e8e8e8" stroke="#777" stroke-width="0.8"/>
<line x1="157.8" y1="250.6" x2="157.8" y2="253.6" stroke="#333" stroke-width="1"/>
<line x1="155.8" y1="250.6" x2="159.8" y2="250.6" stroke="#333" stroke-width="1"/>
<line x1="155.8" y1="253.6" x2="159.8" y2="253.6" stroke="#333" stroke-width="1"/>
<rect x="156.1" y="250.4" width="3.4" height="3.4" fill="#e8e8e8" stroke="#777" stroke-width="0.8"/>
<polyline points="60.3,240.7 92.6,247.6 125.2,251.0 157.8,253.2" fill="none" stroke="#555555" stroke-width="1.25"/>
<line x1="60.3" y1="235.7" x2="60.3" y2="245.7" stroke="#333" stroke-width="1"/>
<line x1="58.3" y1="235.7" x2="62.3" y2="235.7" stroke="#333" stroke-width="1"/>
<line x1="58.3" y1="245.7" x2="62.3" y2="245.7" stroke="#333" stroke-width="1"/>
<polygon points="60.3,238.7 58.3,240.7 60.3,242.7 62.3,240.7" fill="#bbb" stroke="#777" stroke-width="0.8"/>
<line x1="92.6" y1="243.6" x2="92.6" y2="251.6" stroke="#333" stroke-width="1"/>
<line x1="90.6" y1="243.6" x2="94.6" y2="243.6" stroke="#333" stroke-width="1"/>
<line x1="90.6" y1="251.6" x2="94.6" y2="251.6" stroke="#333" stroke-width="1"/>
<polygon points="92.6,245.6 90.6,247.6 92.6,249.6 94.6,247.6" fill="#bbb" stroke="#777" stroke-width="0.8"/>
<line x1="125.2" y1="248.0" x2="125.2" y2="254.0" stroke="#333" stroke-width="1"/>
<line x1="123.2" y1="248.0" x2="127.2" y2="248.0" stroke="#333" stroke-width="1"/>
<line x1="123.2" y1="254.0" x2="127.2" y2="254.0" stroke="#333" stroke-width="1"/>
<polygon points="125.2,249.0 123.2,251.0 125.2,253.0 127.2,251.0" fill="#bbb" stroke="#777" stroke-width="0.8"/>
<line x1="157.8" y1="251.7" x2="157.8" y2="254.7" stroke="#333" stroke-width="1"/>
<line x1="155.8" y1="251.7" x2="159.8" y2="251.7" stroke="#333" stroke-width="1"/>
<line x1="155.8" y1="254.7" x2="159.8" y2="254.7" stroke="#333" stroke-width="1"/>
<polygon points="157.8,251.2 155.8,253.2 157.8,255.2 159.8,253.2" fill="#bbb" stroke="#777" stroke-width="0.8"/>
<polyline points="60.3,190.8 92.6,201.2 125.2,214.6 157.8,231.2" fill="none" stroke="#1e1e1e" stroke-width="1.25"/>
<line x1="60.3" y1="184.8" x2="60.3" y2="196.8" stroke="#1e1e1e" stroke-width="1"/>
<line x1="58.3" y1="184.8" x2="62.3" y2="184.8" stroke="#1e1e1e" stroke-width="1"/>
<line x1="58.3" y1="196.8" x2="62.3" y2="196.8" stroke="#1e1e1e" stroke-width="1"/>
<circle cx="60.3" cy="190.8" r="1.7" fill="#1e1e1e" stroke="#1e1e1e" stroke-width="0.8"/>
<line x1="92.6" y1="195.7" x2="92.6" y2="206.7" stroke="#1e1e1e" stroke-width="1"/>
<line x1="90.6" y1="195.7" x2="94.6" y2="195.7" stroke="#1e1e1e" stroke-width="1"/>
<line x1="90.6" y1="206.7" x2="94.6" y2="206.7" stroke="#1e1e1e" stroke-width="1"/>
<circle cx="92.6" cy="201.2" r="1.7" fill="#1e1e1e" stroke="#1e1e1e" stroke-width="0.8"/>
<line x1="125.2" y1="207.6" x2="125.2" y2="221.6" stroke="#1e1e1e" stroke-width="1"/>
<line x1="123.2" y1="207.6" x2="127.2" y2="207.6" stroke="#1e1e1e" stroke-width="1"/>
<line x1="123.2" y1="221.6" x2="127.2" y2="221.6" stroke="#1e1e1e" stroke-width="1"/>
<circle cx="125.2" cy="214.6" r="1.7" fill="#1e1e1e" stroke="#1e1e1e" stroke-width="0.8"/>
<line x1="157.8" y1="226.7" x2="157.8" y2="235.7" stroke="#1e1e1e" stroke-width="1"/>
<line x1="155.8" y1="226.7" x2="159.8" y2="226.7" stroke="#1e1e1e" stroke-width="1"/>
<line x1="155.8" y1="235.7" x2="159.8" y2="235.7" stroke="#1e1e1e" stroke-width="1"/>
<circle cx="157.8" cy="231.2" r="1.7" fill="#1e1e1e" stroke="#1e1e1e" stroke-width="0.8"/>
<polyline points="60.3,187.7 92.6,198.8 125.2,210.0 157.8,227.7" fill="none" stroke="#1e1e1e" stroke-width="1.25"/>
<line x1="60.3" y1="183.7" x2="60.3" y2="191.7" stroke="#1e1e1e" stroke-width="1"/>
<line x1="58.3" y1="183.7" x2="62.3" y2="183.7" stroke="#1e1e1e" stroke-width="1"/>
<line x1="58.3" y1="191.7" x2="62.3" y2="191.7" stroke="#1e1e1e" stroke-width="1"/>
<rect x="58.6" y="186.0" width="3.4" height="3.4" fill="#1e1e1e" stroke="#1e1e1e" stroke-width="0.8"/>
<line x1="92.6" y1="194.8" x2="92.6" y2="202.8" stroke="#1e1e1e" stroke-width="1"/>
<line x1="90.6" y1="194.8" x2="94.6" y2="194.8" stroke="#1e1e1e" stroke-width="1"/>
<line x1="90.6" y1="202.8" x2="94.6" y2="202.8" stroke="#1e1e1e" stroke-width="1"/>
<rect x="90.9" y="197.1" width="3.4" height="3.4" fill="#1e1e1e" stroke="#1e1e1e" stroke-width="0.8"/>
<line x1="125.2" y1="205.0" x2="125.2" y2="215.0" stroke="#1e1e1e" stroke-width="1"/>
<line x1="123.2" y1="205.0" x2="127.2" y2="205.0" stroke="#1e1e1e" stroke-width="1"/>
<line x1="123.2" y1="215.0" x2="127.2" y2="215.0" stroke="#1e1e1e" stroke-width="1"/>
<rect x="123.5" y="208.3" width="3.4" height="3.4" fill="#1e1e1e" stroke="#1e1e1e" stroke-width="0.8"/>
<line x1="157.8" y1="222.7" x2="157.8" y2="232.7" stroke="#1e1e1e" stroke-width="1"/>
<line x1="155.8" y1="222.7" x2="159.8" y2="222.7" stroke="#1e1e1e" stroke-width="1"/>
<line x1="155.8" y1="232.7" x2="159.8" y2="232.7" stroke="#1e1e1e" stroke-width="1"/>
<rect x="156.1" y="226.0" width="3.4" height="3.4" fill="#1e1e1e" stroke="#1e1e1e" stroke-width="0.8"/>
<polyline points="60.3,184.2 92.6,192.7 125.2,204.2 157.8,216.5" fill="none" stroke="#1e1e1e" stroke-width="1.25"/>
<line x1="60.3" y1="181.2" x2="60.3" y2="187.2" stroke="#1e1e1e" stroke-width="1"/>
<line x1="58.3" y1="181.2" x2="62.3" y2="181.2" stroke="#1e1e1e" stroke-width="1"/>
<line x1="58.3" y1="187.2" x2="62.3" y2="187.2" stroke="#1e1e1e" stroke-width="1"/>
<polygon points="60.3,182.2 58.4,185.6 62.2,185.6" fill="#1e1e1e" stroke="#1e1e1e" stroke-width="0.8"/>
<line x1="92.6" y1="188.7" x2="92.6" y2="196.7" stroke="#1e1e1e" stroke-width="1"/>
<line x1="90.6" y1="188.7" x2="94.6" y2="188.7" stroke="#1e1e1e" stroke-width="1"/>
<line x1="90.6" y1="196.7" x2="94.6" y2="196.7" stroke="#1e1e1e" stroke-width="1"/>
<polygon points="92.6,190.7 90.7,194.1 94.5,194.1" fill="#1e1e1e" stroke="#1e1e1e" stroke-width="0.8"/>
<line x1="125.2" y1="199.2" x2="125.2" y2="209.2" stroke="#1e1e1e" stroke-width="1"/>
<line x1="123.2" y1="199.2" x2="127.2" y2="199.2" stroke="#1e1e1e" stroke-width="1"/>
<line x1="123.2" y1="209.2" x2="127.2" y2="209.2" stroke="#1e1e1e" stroke-width="1"/>
<polygon points="125.2,202.2 123.3,205.6 127.1,205.6" fill="#1e1e1e" stroke="#1e1e1e" stroke-width="0.8"/>
<line x1="157.8" y1="211.5" x2="157.8" y2="221.5" stroke="#1e1e1e" stroke-width="1"/>
<line x1="155.8" y1="211.5" x2="159.8" y2="211.5" stroke="#1e1e1e" stroke-width="1"/>
<line x1="155.8" y1="221.5" x2="159.8" y2="221.5" stroke="#1e1e1e" stroke-width="1"/>
<polygon points="157.8,214.5 155.9,217.9 159.7,217.9" fill="#1e1e1e" stroke="#1e1e1e" stroke-width="0.8"/>
<polyline points="60.3,181.5 92.6,186.9 125.2,200.4 157.8,214.6" fill="none" stroke="#1e1e1e" stroke-width="1.25"/>
<line x1="60.3" y1="176.5" x2="60.3" y2="186.5" stroke="#1e1e1e" stroke-width="1"/>
<line x1="58.3" y1="176.5" x2="62.3" y2="176.5" stroke="#1e1e1e" stroke-width="1"/>
<line x1="58.3" y1="186.5" x2="62.3" y2="186.5" stroke="#1e1e1e" stroke-width="1"/>
<polygon points="60.3,179.5 58.3,181.5 60.3,183.5 62.3,181.5" fill="#1e1e1e" stroke="#1e1e1e" stroke-width="0.8"/>
<line x1="92.6" y1="182.9" x2="92.6" y2="190.9" stroke="#1e1e1e" stroke-width="1"/>
<line x1="90.6" y1="182.9" x2="94.6" y2="182.9" stroke="#1e1e1e" stroke-width="1"/>
<line x1="90.6" y1="190.9" x2="94.6" y2="190.9" stroke="#1e1e1e" stroke-width="1"/>
<polygon points="92.6,184.9 90.6,186.9 92.6,188.9 94.6,186.9" fill="#1e1e1e" stroke="#1e1e1e" stroke-width="0.8"/>
<line x1="125.2" y1="194.4" x2="125.2" y2="206.4" stroke="#1e1e1e" stroke-width="1"/>
<line x1="123.2" y1="194.4" x2="127.2" y2="194.4" stroke="#1e1e1e" stroke-width="1"/>
<line x1="123.2" y1="206.4" x2="127.2" y2="206.4" stroke="#1e1e1e" stroke-width="1"/>
<polygon points="125.2,198.4 123.2,200.4 125.2,202.4 127.2,200.4" fill="#1e1e1e" stroke="#1e1e1e" stroke-width="0.8"/>
<line x1="157.8" y1="208.6" x2="157.8" y2="220.6" stroke="#1e1e1e" stroke-width="1"/>
<line x1="155.8" y1="208.6" x2="159.8" y2="208.6" stroke="#1e1e1e" stroke-width="1"/>
<line x1="155.8" y1="220.6" x2="159.8" y2="220.6" stroke="#1e1e1e" stroke-width="1"/>
<polygon points="157.8,212.6 155.8,214.6 157.8,216.6 159.8,214.6" fill="#1e1e1e" stroke="#1e1e1e" stroke-width="0.8"/>
<text x="271.6" y="162.8" font-size="9" font-weight="bold" text-anchor="middle" fill="#1a1a1a" >A549</text>
<line x1="202.2" y1="164.0" x2="202.2" y2="257.7" stroke="#222" stroke-width="1.3"/>
<line x1="201.6" y1="257.1" x2="341.5" y2="257.1" stroke="#222" stroke-width="1.3"/>
<line x1="199.2" y1="257.1" x2="202.2" y2="257.1" stroke="#222" stroke-width="1"/>
<text x="198.6" y="259.6" font-size="7" font-weight="bold" text-anchor="end" fill="#1a1a1a" >0</text>
<line x1="199.2" y1="234.0" x2="202.2" y2="234.0" stroke="#222" stroke-width="1"/>
<text x="198.6" y="236.5" font-size="7" font-weight="bold" text-anchor="end" fill="#1a1a1a" >20</text>
<line x1="199.2" y1="210.8" x2="202.2" y2="210.8" stroke="#222" stroke-width="1"/>
<text x="198.6" y="213.3" font-size="7" font-weight="bold" text-anchor="end" fill="#1a1a1a" >40</text>
<line x1="199.2" y1="187.7" x2="202.2" y2="187.7" stroke="#222" stroke-width="1"/>
<text x="198.6" y="190.2" font-size="7" font-weight="bold" text-anchor="end" fill="#1a1a1a" >60</text>
<line x1="199.2" y1="164.5" x2="202.2" y2="164.5" stroke="#222" stroke-width="1"/>
<text x="198.6" y="167.0" font-size="7" font-weight="bold" text-anchor="end" fill="#1a1a1a" >80</text>
<line x1="223.3" y1="257.1" x2="223.3" y2="260.1" stroke="#222" stroke-width="1"/>
<text x="223.3" y="267.5" font-size="7" font-weight="bold" text-anchor="middle" fill="#1a1a1a" >20:1</text>
<line x1="255.4" y1="257.1" x2="255.4" y2="260.1" stroke="#222" stroke-width="1"/>
<text x="255.4" y="267.5" font-size="7" font-weight="bold" text-anchor="middle" fill="#1a1a1a" >10:1</text>
<line x1="287.5" y1="257.1" x2="287.5" y2="260.1" stroke="#222" stroke-width="1"/>
<text x="287.5" y="267.5" font-size="7" font-weight="bold" text-anchor="middle" fill="#1a1a1a" >5:1</text>
<line x1="319.6" y1="257.1" x2="319.6" y2="260.1" stroke="#222" stroke-width="1"/>
<text x="319.6" y="267.5" font-size="7" font-weight="bold" text-anchor="middle" fill="#1a1a1a" >2.5:1</text>
<text x="270.8" y="282.5" font-size="7.5" font-weight="normal" text-anchor="middle" fill="#1a1a1a" stroke="#1a1a1a" stroke-width="0.35">E:T ratio</text>
<polyline points="223.3,243.0 255.4,247.3 287.5,250.5 319.6,251.0" fill="none" stroke="#484848" stroke-width="1.25"/>
<line x1="223.3" y1="240.0" x2="223.3" y2="246.0" stroke="#333" stroke-width="1"/>
<line x1="221.3" y1="240.0" x2="225.3" y2="240.0" stroke="#333" stroke-width="1"/>
<line x1="221.3" y1="246.0" x2="225.3" y2="246.0" stroke="#333" stroke-width="1"/>
<rect x="221.6" y="241.3" width="3.4" height="3.4" fill="#e8e8e8" stroke="#777" stroke-width="0.8"/>
<line x1="255.4" y1="244.3" x2="255.4" y2="250.3" stroke="#333" stroke-width="1"/>
<line x1="253.4" y1="244.3" x2="257.4" y2="244.3" stroke="#333" stroke-width="1"/>
<line x1="253.4" y1="250.3" x2="257.4" y2="250.3" stroke="#333" stroke-width="1"/>
<rect x="253.7" y="245.6" width="3.4" height="3.4" fill="#e8e8e8" stroke="#777" stroke-width="0.8"/>
<line x1="287.5" y1="248.5" x2="287.5" y2="252.5" stroke="#333" stroke-width="1"/>
<line x1="285.5" y1="248.5" x2="289.5" y2="248.5" stroke="#333" stroke-width="1"/>
<line x1="285.5" y1="252.5" x2="289.5" y2="252.5" stroke="#333" stroke-width="1"/>
<rect x="285.8" y="248.8" width="3.4" height="3.4" fill="#e8e8e8" stroke="#777" stroke-width="0.8"/>
<line x1="319.6" y1="249.0" x2="319.6" y2="253.0" stroke="#333" stroke-width="1"/>
<line x1="317.6" y1="249.0" x2="321.6" y2="249.0" stroke="#333" stroke-width="1"/>
<line x1="317.6" y1="253.0" x2="321.6" y2="253.0" stroke="#333" stroke-width="1"/>
<rect x="317.9" y="249.3" width="3.4" height="3.4" fill="#e8e8e8" stroke="#777" stroke-width="0.8"/>
<polyline points="223.3,248.7 255.4,251.6 287.5,252.8 319.6,253.9" fill="none" stroke="#555555" stroke-width="1.25"/>
<line x1="223.3" y1="245.7" x2="223.3" y2="251.7" stroke="#333" stroke-width="1"/>
<line x1="221.3" y1="245.7" x2="225.3" y2="245.7" stroke="#333" stroke-width="1"/>
<line x1="221.3" y1="251.7" x2="225.3" y2="251.7" stroke="#333" stroke-width="1"/>
<polygon points="223.3,246.7 221.3,248.7 223.3,250.7 225.3,248.7" fill="#bbb" stroke="#777" stroke-width="0.8"/>
<line x1="255.4" y1="249.6" x2="255.4" y2="253.6" stroke="#333" stroke-width="1"/>
<line x1="253.4" y1="249.6" x2="257.4" y2="249.6" stroke="#333" stroke-width="1"/>
<line x1="253.4" y1="253.6" x2="257.4" y2="253.6" stroke="#333" stroke-width="1"/>
<polygon points="255.4,249.6 253.4,251.6 255.4,253.6 257.4,251.6" fill="#bbb" stroke="#777" stroke-width="0.8"/>
<line x1="287.5" y1="250.8" x2="287.5" y2="254.8" stroke="#333" stroke-width="1"/>
<line x1="285.5" y1="250.8" x2="289.5" y2="250.8" stroke="#333" stroke-width="1"/>
<line x1="285.5" y1="254.8" x2="289.5" y2="254.8" stroke="#333" stroke-width="1"/>
<polygon points="287.5,250.8 285.5,252.8 287.5,254.8 289.5,252.8" fill="#bbb" stroke="#777" stroke-width="0.8"/>
<line x1="319.6" y1="251.9" x2="319.6" y2="255.9" stroke="#333" stroke-width="1"/>
<line x1="317.6" y1="251.9" x2="321.6" y2="251.9" stroke="#333" stroke-width="1"/>
<line x1="317.6" y1="255.9" x2="321.6" y2="255.9" stroke="#333" stroke-width="1"/>
<polygon points="319.6,251.9 317.6,253.9 319.6,255.9 321.6,253.9" fill="#bbb" stroke="#777" stroke-width="0.8"/>
<polyline points="223.3,238.0 255.4,243.5 287.5,247.5 319.6,252.5" fill="none" stroke="#1e1e1e" stroke-width="1.25"/>
<line x1="223.3" y1="235.0" x2="223.3" y2="241.0" stroke="#1e1e1e" stroke-width="1"/>
<line x1="221.3" y1="235.0" x2="225.3" y2="235.0" stroke="#1e1e1e" stroke-width="1"/>
<line x1="221.3" y1="241.0" x2="225.3" y2="241.0" stroke="#1e1e1e" stroke-width="1"/>
<circle cx="223.3" cy="238.0" r="1.7" fill="#1e1e1e" stroke="#1e1e1e" stroke-width="0.8"/>
<line x1="255.4" y1="240.5" x2="255.4" y2="246.5" stroke="#1e1e1e" stroke-width="1"/>
<line x1="253.4" y1="240.5" x2="257.4" y2="240.5" stroke="#1e1e1e" stroke-width="1"/>
<line x1="253.4" y1="246.5" x2="257.4" y2="246.5" stroke="#1e1e1e" stroke-width="1"/>
<circle cx="255.4" cy="243.5" r="1.7" fill="#1e1e1e" stroke="#1e1e1e" stroke-width="0.8"/>
<line x1="287.5" y1="244.5" x2="287.5" y2="250.5" stroke="#1e1e1e" stroke-width="1"/>
<line x1="285.5" y1="244.5" x2="289.5" y2="244.5" stroke="#1e1e1e" stroke-width="1"/>
<line x1="285.5" y1="250.5" x2="289.5" y2="250.5" stroke="#1e1e1e" stroke-width="1"/>
<circle cx="287.5" cy="247.5" r="1.7" fill="#1e1e1e" stroke="#1e1e1e" stroke-width="0.8"/>
<line x1="319.6" y1="249.5" x2="319.6" y2="255.5" stroke="#1e1e1e" stroke-width="1"/>
<line x1="317.6" y1="249.5" x2="321.6" y2="249.5" stroke="#1e1e1e" stroke-width="1"/>
<line x1="317.6" y1="255.5" x2="321.6" y2="255.5" stroke="#1e1e1e" stroke-width="1"/>
<circle cx="319.6" cy="252.5" r="1.7" fill="#1e1e1e" stroke="#1e1e1e" stroke-width="0.8"/>
<polyline points="223.3,232.9 255.4,238.0 287.5,243.0 319.6,249.5" fill="none" stroke="#1e1e1e" stroke-width="1.25"/>
<line x1="223.3" y1="229.9" x2="223.3" y2="235.9" stroke="#1e1e1e" stroke-width="1"/>
<line x1="221.3" y1="229.9" x2="225.3" y2="229.9" stroke="#1e1e1e" stroke-width="1"/>
<line x1="221.3" y1="235.9" x2="225.3" y2="235.9" stroke="#1e1e1e" stroke-width="1"/>
<rect x="221.6" y="231.2" width="3.4" height="3.4" fill="#1e1e1e" stroke="#1e1e1e" stroke-width="0.8"/>
<line x1="255.4" y1="235.0" x2="255.4" y2="241.0" stroke="#1e1e1e" stroke-width="1"/>
<line x1="253.4" y1="235.0" x2="257.4" y2="235.0" stroke="#1e1e1e" stroke-width="1"/>
<line x1="253.4" y1="241.0" x2="257.4" y2="241.0" stroke="#1e1e1e" stroke-width="1"/>
<rect x="253.7" y="236.3" width="3.4" height="3.4" fill="#1e1e1e" stroke="#1e1e1e" stroke-width="0.8"/>
<line x1="287.5" y1="240.0" x2="287.5" y2="246.0" stroke="#1e1e1e" stroke-width="1"/>
<line x1="285.5" y1="240.0" x2="289.5" y2="240.0" stroke="#1e1e1e" stroke-width="1"/>
<line x1="285.5" y1="246.0" x2="289.5" y2="246.0" stroke="#1e1e1e" stroke-width="1"/>
<rect x="285.8" y="241.3" width="3.4" height="3.4" fill="#1e1e1e" stroke="#1e1e1e" stroke-width="0.8"/>
<line x1="319.6" y1="246.0" x2="319.6" y2="253.0" stroke="#1e1e1e" stroke-width="1"/>
<line x1="317.6" y1="246.0" x2="321.6" y2="246.0" stroke="#1e1e1e" stroke-width="1"/>
<line x1="317.6" y1="253.0" x2="321.6" y2="253.0" stroke="#1e1e1e" stroke-width="1"/>
<rect x="317.9" y="247.8" width="3.4" height="3.4" fill="#1e1e1e" stroke="#1e1e1e" stroke-width="0.8"/>
<polyline points="223.3,234.2 255.4,239.2 287.5,244.3 319.6,250.2" fill="none" stroke="#1e1e1e" stroke-width="1.25"/>
<line x1="223.3" y1="231.2" x2="223.3" y2="237.2" stroke="#1e1e1e" stroke-width="1"/>
<line x1="221.3" y1="231.2" x2="225.3" y2="231.2" stroke="#1e1e1e" stroke-width="1"/>
<line x1="221.3" y1="237.2" x2="225.3" y2="237.2" stroke="#1e1e1e" stroke-width="1"/>
<polygon points="223.3,232.2 221.4,235.6 225.2,235.6" fill="#1e1e1e" stroke="#1e1e1e" stroke-width="0.8"/>
<line x1="255.4" y1="236.2" x2="255.4" y2="242.2" stroke="#1e1e1e" stroke-width="1"/>
<line x1="253.4" y1="236.2" x2="257.4" y2="236.2" stroke="#1e1e1e" stroke-width="1"/>
<line x1="253.4" y1="242.2" x2="257.4" y2="242.2" stroke="#1e1e1e" stroke-width="1"/>
<polygon points="255.4,237.2 253.5,240.6 257.3,240.6" fill="#1e1e1e" stroke="#1e1e1e" stroke-width="0.8"/>
<line x1="287.5" y1="241.3" x2="287.5" y2="247.3" stroke="#1e1e1e" stroke-width="1"/>
<line x1="285.5" y1="241.3" x2="289.5" y2="241.3" stroke="#1e1e1e" stroke-width="1"/>
<line x1="285.5" y1="247.3" x2="289.5" y2="247.3" stroke="#1e1e1e" stroke-width="1"/>
<polygon points="287.5,242.3 285.6,245.7 289.4,245.7" fill="#1e1e1e" stroke="#1e1e1e" stroke-width="0.8"/>
<line x1="319.6" y1="247.2" x2="319.6" y2="253.2" stroke="#1e1e1e" stroke-width="1"/>
<line x1="317.6" y1="247.2" x2="321.6" y2="247.2" stroke="#1e1e1e" stroke-width="1"/>
<line x1="317.6" y1="253.2" x2="321.6" y2="253.2" stroke="#1e1e1e" stroke-width="1"/>
<polygon points="319.6,248.2 317.7,251.6 321.5,251.6" fill="#1e1e1e" stroke="#1e1e1e" stroke-width="0.8"/>
<polyline points="223.3,236.6 255.4,242.4 287.5,246.5 319.6,251.0" fill="none" stroke="#1e1e1e" stroke-width="1.25"/>
<line x1="223.3" y1="233.6" x2="223.3" y2="239.6" stroke="#1e1e1e" stroke-width="1"/>
<line x1="221.3" y1="233.6" x2="225.3" y2="233.6" stroke="#1e1e1e" stroke-width="1"/>
<line x1="221.3" y1="239.6" x2="225.3" y2="239.6" stroke="#1e1e1e" stroke-width="1"/>
<polygon points="223.3,234.6 221.3,236.6 223.3,238.6 225.3,236.6" fill="#1e1e1e" stroke="#1e1e1e" stroke-width="0.8"/>
<line x1="255.4" y1="239.4" x2="255.4" y2="245.4" stroke="#1e1e1e" stroke-width="1"/>
<line x1="253.4" y1="239.4" x2="257.4" y2="239.4" stroke="#1e1e1e" stroke-width="1"/>
<line x1="253.4" y1="245.4" x2="257.4" y2="245.4" stroke="#1e1e1e" stroke-width="1"/>
<polygon points="255.4,240.4 253.4,242.4 255.4,244.4 257.4,242.4" fill="#1e1e1e" stroke="#1e1e1e" stroke-width="0.8"/>
<line x1="287.5" y1="243.5" x2="287.5" y2="249.5" stroke="#1e1e1e" stroke-width="1"/>
<line x1="285.5" y1="243.5" x2="289.5" y2="243.5" stroke="#1e1e1e" stroke-width="1"/>
<line x1="285.5" y1="249.5" x2="289.5" y2="249.5" stroke="#1e1e1e" stroke-width="1"/>
<polygon points="287.5,244.5 285.5,246.5 287.5,248.5 289.5,246.5" fill="#1e1e1e" stroke="#1e1e1e" stroke-width="0.8"/>
<line x1="319.6" y1="248.0" x2="319.6" y2="254.0" stroke="#1e1e1e" stroke-width="1"/>
<line x1="317.6" y1="248.0" x2="321.6" y2="248.0" stroke="#1e1e1e" stroke-width="1"/>
<line x1="317.6" y1="254.0" x2="321.6" y2="254.0" stroke="#1e1e1e" stroke-width="1"/>
<polygon points="319.6,249.0 317.6,251.0 319.6,253.0 321.6,251.0" fill="#1e1e1e" stroke="#1e1e1e" stroke-width="0.8"/>
<line x1="350.6" y1="171.3" x2="360.2" y2="171.3" stroke="#484848" stroke-width="1"/>
<rect x="353.7" y="169.6" width="3.4" height="3.4" fill="#e8e8e8" stroke="#484848" stroke-width="0.8"/>
<text x="365.6" y="174.1" font-size="7.7" font-weight="normal" text-anchor="start" fill="#1a1a1a" stroke="#1a1a1a" stroke-width="0.3">NT</text>
<line x1="350.6" y1="183.8" x2="360.2" y2="183.8" stroke="#555555" stroke-width="1"/>
<polygon points="355.4,181.8 353.4,183.8 355.4,185.8 357.4,183.8" fill="#bbb" stroke="#555555" stroke-width="0.8"/>
<text x="365.6" y="186.6" font-size="7.7" font-weight="normal" text-anchor="start" fill="#1a1a1a" stroke="#1a1a1a" stroke-width="0.3">21.15.</text>
<line x1="350.6" y1="196.3" x2="360.2" y2="196.3" stroke="#1e1e1e" stroke-width="1"/>
<circle cx="355.4" cy="196.3" r="1.7" fill="#1e1e1e" stroke="#1e1e1e" stroke-width="0.8"/>
<text x="365.6" y="199.1" font-size="7.7" font-weight="normal" text-anchor="start" fill="#1a1a1a" stroke="#1a1a1a" stroke-width="0.3">GBBz</text>
<line x1="350.6" y1="208.8" x2="360.2" y2="208.8" stroke="#1e1e1e" stroke-width="1"/>
<rect x="353.7" y="207.1" width="3.4" height="3.4" fill="#1e1e1e" stroke="#1e1e1e" stroke-width="0.8"/>
<text x="365.6" y="211.6" font-size="7.7" font-weight="normal" text-anchor="start" fill="#1a1a1a" stroke="#1a1a1a" stroke-width="0.3">15.GBBz</text>
<line x1="350.6" y1="221.3" x2="360.2" y2="221.3" stroke="#1e1e1e" stroke-width="1"/>
<polygon points="355.4,219.3 353.5,222.7 357.3,222.7" fill="#1e1e1e" stroke="#1e1e1e" stroke-width="0.8"/>
<text x="365.6" y="224.1" font-size="7.7" font-weight="normal" text-anchor="start" fill="#1a1a1a" stroke="#1a1a1a" stroke-width="0.3">21.GBBz</text>
<line x1="350.6" y1="233.8" x2="360.2" y2="233.8" stroke="#1e1e1e" stroke-width="1"/>
<polygon points="355.4,231.8 353.4,233.8 355.4,235.8 357.4,233.8" fill="#1e1e1e" stroke="#1e1e1e" stroke-width="0.8"/>
<text x="365.6" y="236.6" font-size="7.7" font-weight="normal" text-anchor="start" fill="#1a1a1a" stroke="#1a1a1a" stroke-width="0.3">21.15.GBBz</text>
<text x="1.0" y="11.9" font-size="14.3" font-weight="bold" text-anchor="start" fill="#111" stroke="#111" stroke-width="0.3">A</text>
<text x="1.1" y="317.9" font-size="14.3" font-weight="bold" text-anchor="start" fill="#111" stroke="#111" stroke-width="0.3">B</text>
<text x="331.6" y="318.2" font-size="14.3" font-weight="bold" text-anchor="start" fill="#111" stroke="#111" stroke-width="0.3">C</text>
<rect x="46.20" y="313.20" width="36.30" height="9.49" fill="#fdfdfd" shape-rendering="crispEdges"/>
<rect x="82.00" y="313.20" width="36.30" height="9.49" fill="#fafafa" shape-rendering="crispEdges"/>
<rect x="117.80" y="313.20" width="36.30" height="9.49" fill="#707070" shape-rendering="crispEdges"/>
<rect x="153.60" y="313.20" width="36.30" height="9.49" fill="#c0c0c0" shape-rendering="crispEdges"/>
<rect x="189.40" y="313.20" width="36.30" height="9.49" fill="#606060" shape-rendering="crispEdges"/>
<rect x="225.20" y="313.20" width="36.30" height="9.49" fill="#b0b0b0" shape-rendering="crispEdges"/>
<rect x="46.20" y="322.19" width="36.30" height="9.49" fill="#fdfdfd" shape-rendering="crispEdges"/>
<rect x="82.00" y="322.19" width="36.30" height="9.49" fill="#f6f6f6" shape-rendering="crispEdges"/>
<rect x="117.80" y="322.19" width="36.30" height="9.49" fill="#888888" shape-rendering="crispEdges"/>
<rect x="153.60" y="322.19" width="36.30" height="9.49" fill="#d8d8d8" shape-rendering="crispEdges"/>
<rect x="189.40" y="322.19" width="36.30" height="9.49" fill="#707070" shape-rendering="crispEdges"/>
<rect x="225.20" y="322.19" width="36.30" height="9.49" fill="#c0c0c0" shape-rendering="crispEdges"/>
<rect x="46.20" y="331.18" width="36.30" height="9.49" fill="#fdfdfd" shape-rendering="crispEdges"/>
<rect x="82.00" y="331.18" width="36.30" height="9.49" fill="#fdfdfd" shape-rendering="crispEdges"/>
<rect x="117.80" y="331.18" width="36.30" height="9.49" fill="#505050" shape-rendering="crispEdges"/>
<rect x="153.60" y="331.18" width="36.30" height="9.49" fill="#c8c8c8" shape-rendering="crispEdges"/>
<rect x="189.40" y="331.18" width="36.30" height="9.49" fill="#707070" shape-rendering="crispEdges"/>
<rect x="225.20" y="331.18" width="36.30" height="9.49" fill="#c0c0c0" shape-rendering="crispEdges"/>
<rect x="46.20" y="340.17" width="36.30" height="9.49" fill="#fdfdfd" shape-rendering="crispEdges"/>
<rect x="82.00" y="340.17" width="36.30" height="9.49" fill="#fdfdfd" shape-rendering="crispEdges"/>
<rect x="117.80" y="340.17" width="36.30" height="9.49" fill="#101010" shape-rendering="crispEdges"/>
<rect x="153.60" y="340.17" width="36.30" height="9.49" fill="#c8c8c8" shape-rendering="crispEdges"/>
<rect x="189.40" y="340.17" width="36.30" height="9.49" fill="#707070" shape-rendering="crispEdges"/>
<rect x="225.20" y="340.17" width="36.30" height="9.49" fill="#c0c0c0" shape-rendering="crispEdges"/>
<rect x="46.20" y="349.16" width="36.30" height="9.49" fill="#fdfdfd" shape-rendering="crispEdges"/>
<rect x="82.00" y="349.16" width="36.30" height="9.49" fill="#fdfdfd" shape-rendering="crispEdges"/>
<rect x="117.80" y="349.16" width="36.30" height="9.49" fill="#dcdcdc" shape-rendering="crispEdges"/>
<rect x="153.60" y="349.16" width="36.30" height="9.49" fill="#f4f4f4" shape-rendering="crispEdges"/>
<rect x="189.40" y="349.16" width="36.30" height="9.49" fill="#c8c8c8" shape-rendering="crispEdges"/>
<rect x="225.20" y="349.16" width="36.30" height="9.49" fill="#e8e8e8" shape-rendering="crispEdges"/>
<rect x="46.20" y="358.14" width="36.30" height="9.49" fill="#fdfdfd" shape-rendering="crispEdges"/>
<rect x="82.00" y="358.14" width="36.30" height="9.49" fill="#fdfdfd" shape-rendering="crispEdges"/>
<rect x="117.80" y="358.14" width="36.30" height="9.49" fill="#c0c0c0" shape-rendering="crispEdges"/>
<rect x="153.60" y="358.14" width="36.30" height="9.49" fill="#e4e4e4" shape-rendering="crispEdges"/>
<rect x="189.40" y="358.14" width="36.30" height="9.49" fill="#a0a0a0" shape-rendering="crispEdges"/>
<rect x="225.20" y="358.14" width="36.30" height="9.49" fill="#d8d8d8" shape-rendering="crispEdges"/>
<rect x="46.20" y="367.13" width="36.30" height="9.49" fill="#fdfdfd" shape-rendering="crispEdges"/>
<rect x="82.00" y="367.13" width="36.30" height="9.49" fill="#fdfdfd" shape-rendering="crispEdges"/>
<rect x="117.80" y="367.13" width="36.30" height="9.49" fill="#9a9a9a" shape-rendering="crispEdges"/>
<rect x="153.60" y="367.13" width="36.30" height="9.49" fill="#a8a8a8" shape-rendering="crispEdges"/>
<rect x="189.40" y="367.13" width="36.30" height="9.49" fill="#484848" shape-rendering="crispEdges"/>
<rect x="225.20" y="367.13" width="36.30" height="9.49" fill="#484848" shape-rendering="crispEdges"/>
<rect x="46.20" y="376.12" width="36.30" height="9.49" fill="#fdfdfd" shape-rendering="crispEdges"/>
<rect x="82.00" y="376.12" width="36.30" height="9.49" fill="#f7f7f7" shape-rendering="crispEdges"/>
<rect x="117.80" y="376.12" width="36.30" height="9.49" fill="#a8a8a8" shape-rendering="crispEdges"/>
<rect x="153.60" y="376.12" width="36.30" height="9.49" fill="#d8d8d8" shape-rendering="crispEdges"/>
<rect x="189.40" y="376.12" width="36.30" height="9.49" fill="#808080" shape-rendering="crispEdges"/>
<rect x="225.20" y="376.12" width="36.30" height="9.49" fill="#303030" shape-rendering="crispEdges"/>
<rect x="46.20" y="385.11" width="36.30" height="9.49" fill="#fdfdfd" shape-rendering="crispEdges"/>
<rect x="82.00" y="385.11" width="36.30" height="9.49" fill="#fdfdfd" shape-rendering="crispEdges"/>
<rect x="117.80" y="385.11" width="36.30" height="9.49" fill="#a0a0a0" shape-rendering="crispEdges"/>
<rect x="153.60" y="385.11" width="36.30" height="9.49" fill="#d8d8d8" shape-rendering="crispEdges"/>
<rect x="189.40" y="385.11" width="36.30" height="9.49" fill="#808080" shape-rendering="crispEdges"/>
<rect x="225.20" y="385.11" width="36.30" height="9.49" fill="#303030" shape-rendering="crispEdges"/>
<rect x="46.20" y="394.10" width="36.30" height="9.49" fill="#fdfdfd" shape-rendering="crispEdges"/>
<rect x="82.00" y="394.10" width="36.30" height="9.49" fill="#fdfdfd" shape-rendering="crispEdges"/>
<rect x="117.80" y="394.10" width="36.30" height="9.49" fill="#1c1c1c" shape-rendering="crispEdges"/>
<rect x="153.60" y="394.10" width="36.30" height="9.49" fill="#a0a0a0" shape-rendering="crispEdges"/>
<rect x="189.40" y="394.10" width="36.30" height="9.49" fill="#888888" shape-rendering="crispEdges"/>
<rect x="225.20" y="394.10" width="36.30" height="9.49" fill="#a0a0a0" shape-rendering="crispEdges"/>
<rect x="46.20" y="403.09" width="36.30" height="9.49" fill="#fdfdfd" shape-rendering="crispEdges"/>
<rect x="82.00" y="403.09" width="36.30" height="9.49" fill="#fdfdfd" shape-rendering="crispEdges"/>
<rect x="117.80" y="403.09" width="36.30" height="9.49" fill="#787878" shape-rendering="crispEdges"/>
<rect x="153.60" y="403.09" width="36.30" height="9.49" fill="#a0a0a0" shape-rendering="crispEdges"/>
<rect x="189.40" y="403.09" width="36.30" height="9.49" fill="#707070" shape-rendering="crispEdges"/>
<rect x="225.20" y="403.09" width="36.30" height="9.49" fill="#989898" shape-rendering="crispEdges"/>
<rect x="46.20" y="412.08" width="36.30" height="9.49" fill="#fdfdfd" shape-rendering="crispEdges"/>
<rect x="82.00" y="412.08" width="36.30" height="9.49" fill="#fdfdfd" shape-rendering="crispEdges"/>
<rect x="117.80" y="412.08" width="36.30" height="9.49" fill="#101010" shape-rendering="crispEdges"/>
<rect x="153.60" y="412.08" width="36.30" height="9.49" fill="#404040" shape-rendering="crispEdges"/>
<rect x="189.40" y="412.08" width="36.30" height="9.49" fill="#282828" shape-rendering="crispEdges"/>
<rect x="225.20" y="412.08" width="36.30" height="9.49" fill="#020202" shape-rendering="crispEdges"/>
<rect x="46.20" y="421.07" width="36.30" height="9.49" fill="#fdfdfd" shape-rendering="crispEdges"/>
<rect x="82.00" y="421.07" width="36.30" height="9.49" fill="#fdfdfd" shape-rendering="crispEdges"/>
<rect x="117.80" y="421.07" width="36.30" height="9.49" fill="#909090" shape-rendering="crispEdges"/>
<rect x="153.60" y="421.07" width="36.30" height="9.49" fill="#f8f8f8" shape-rendering="crispEdges"/>
<rect x="189.40" y="421.07" width="36.30" height="9.49" fill="#686868" shape-rendering="crispEdges"/>
<rect x="225.20" y="421.07" width="36.30" height="9.49" fill="#f4f4f4" shape-rendering="crispEdges"/>
<rect x="46.20" y="430.06" width="36.30" height="9.49" fill="#fdfdfd" shape-rendering="crispEdges"/>
<rect x="82.00" y="430.06" width="36.30" height="9.49" fill="#fdfdfd" shape-rendering="crispEdges"/>
<rect x="117.80" y="430.06" width="36.30" height="9.49" fill="#d0d0d0" shape-rendering="crispEdges"/>
<rect x="153.60" y="430.06" width="36.30" height="9.49" fill="#f8f8f8" shape-rendering="crispEdges"/>
<rect x="189.40" y="430.06" width="36.30" height="9.49" fill="#888888" shape-rendering="crispEdges"/>
<rect x="225.20" y="430.06" width="36.30" height="9.49" fill="#f4f4f4" shape-rendering="crispEdges"/>
<rect x="46.20" y="439.04" width="36.30" height="9.49" fill="#fdfdfd" shape-rendering="crispEdges"/>
<rect x="82.00" y="439.04" width="36.30" height="9.49" fill="#fdfdfd" shape-rendering="crispEdges"/>
<rect x="117.80" y="439.04" width="36.30" height="9.49" fill="#b0b0b0" shape-rendering="crispEdges"/>
<rect x="153.60" y="439.04" width="36.30" height="9.49" fill="#f8f8f8" shape-rendering="crispEdges"/>
<rect x="189.40" y="439.04" width="36.30" height="9.49" fill="#c0c0c0" shape-rendering="crispEdges"/>
<rect x="225.20" y="439.04" width="36.30" height="9.49" fill="#f4f4f4" shape-rendering="crispEdges"/>
<rect x="46.20" y="448.03" width="36.30" height="9.49" fill="#fdfdfd" shape-rendering="crispEdges"/>
<rect x="82.00" y="448.03" width="36.30" height="9.49" fill="#fdfdfd" shape-rendering="crispEdges"/>
<rect x="117.80" y="448.03" width="36.30" height="9.49" fill="#787878" shape-rendering="crispEdges"/>
<rect x="153.60" y="448.03" width="36.30" height="9.49" fill="#f8f8f8" shape-rendering="crispEdges"/>
<rect x="189.40" y="448.03" width="36.30" height="9.49" fill="#b0b0b0" shape-rendering="crispEdges"/>
<rect x="225.20" y="448.03" width="36.30" height="9.49" fill="#f4f4f4" shape-rendering="crispEdges"/>
<rect x="46.20" y="457.02" width="36.30" height="9.49" fill="#fdfdfd" shape-rendering="crispEdges"/>
<rect x="82.00" y="457.02" width="36.30" height="9.49" fill="#fdfdfd" shape-rendering="crispEdges"/>
<rect x="117.80" y="457.02" width="36.30" height="9.49" fill="#f0f0f0" shape-rendering="crispEdges"/>
<rect x="153.60" y="457.02" width="36.30" height="9.49" fill="#f8f8f8" shape-rendering="crispEdges"/>
<rect x="189.40" y="457.02" width="36.30" height="9.49" fill="#b8b8b8" shape-rendering="crispEdges"/>
<rect x="225.20" y="457.02" width="36.30" height="9.49" fill="#f4f4f4" shape-rendering="crispEdges"/>
<rect x="46.20" y="466.01" width="36.30" height="9.49" fill="#fdfdfd" shape-rendering="crispEdges"/>
<rect x="82.00" y="466.01" width="36.30" height="9.49" fill="#fdfdfd" shape-rendering="crispEdges"/>
<rect x="117.80" y="466.01" width="36.30" height="9.49" fill="#e0e0e0" shape-rendering="crispEdges"/>
<rect x="153.60" y="466.01" width="36.30" height="9.49" fill="#f8f8f8" shape-rendering="crispEdges"/>
<rect x="189.40" y="466.01" width="36.30" height="9.49" fill="#a0a0a0" shape-rendering="crispEdges"/>
<rect x="225.20" y="466.01" width="36.30" height="9.49" fill="#f4f4f4" shape-rendering="crispEdges"/>
<rect x="46.20" y="313.20" width="214.80" height="161.80" fill="none" stroke="#111" stroke-width="1.2"/>
<line x1="46.2" y1="367.1" x2="261.0" y2="367.1" stroke="#111" stroke-width="1"/>
<line x1="46.2" y1="421.1" x2="261.0" y2="421.1" stroke="#111" stroke-width="1"/>
<rect x="46.20" y="478.40" width="36.30" height="7.23" fill="#f8f8f8" shape-rendering="crispEdges"/>
<rect x="82.00" y="478.40" width="36.30" height="7.23" fill="#fafafa" shape-rendering="crispEdges"/>
<rect x="117.80" y="478.40" width="36.30" height="7.23" fill="#f0f0f0" shape-rendering="crispEdges"/>
<rect x="153.60" y="478.40" width="36.30" height="7.23" fill="#e8e8e8" shape-rendering="crispEdges"/>
<rect x="189.40" y="478.40" width="36.30" height="7.23" fill="#f4f4f4" shape-rendering="crispEdges"/>
<rect x="225.20" y="478.40" width="36.30" height="7.23" fill="#f4f4f4" shape-rendering="crispEdges"/>
<rect x="46.20" y="485.13" width="36.30" height="7.23" fill="#f0f0f0" shape-rendering="crispEdges"/>
<rect x="82.00" y="485.13" width="36.30" height="7.23" fill="#d0d0d0" shape-rendering="crispEdges"/>
<rect x="117.80" y="485.13" width="36.30" height="7.23" fill="#d8d8d8" shape-rendering="crispEdges"/>
<rect x="153.60" y="485.13" width="36.30" height="7.23" fill="#c0c0c0" shape-rendering="crispEdges"/>
<rect x="189.40" y="485.13" width="36.30" height="7.23" fill="#e8e8e8" shape-rendering="crispEdges"/>
<rect x="225.20" y="485.13" width="36.30" height="7.23" fill="#c0c0c0" shape-rendering="crispEdges"/>
<rect x="46.20" y="491.87" width="36.30" height="7.23" fill="#fdfdfd" shape-rendering="crispEdges"/>
<rect x="82.00" y="491.87" width="36.30" height="7.23" fill="#fdfdfd" shape-rendering="crispEdges"/>
<rect x="117.80" y="491.87" width="36.30" height="7.23" fill="#f0f0f0" shape-rendering="crispEdges"/>
<rect x="153.60" y="491.87" width="36.30" height="7.23" fill="#f0f0f0" shape-rendering="crispEdges"/>
<rect x="189.40" y="491.87" width="36.30" height="7.23" fill="#f0f0f0" shape-rendering="crispEdges"/>
<rect x="225.20" y="491.87" width="36.30" height="7.23" fill="#f4f4f4" shape-rendering="crispEdges"/>
<rect x="46.20" y="498.60" width="36.30" height="7.23" fill="#fdfdfd" shape-rendering="crispEdges"/>
<rect x="82.00" y="498.60" width="36.30" height="7.23" fill="#fdfdfd" shape-rendering="crispEdges"/>
<rect x="117.80" y="498.60" width="36.30" height="7.23" fill="#c8c8c8" shape-rendering="crispEdges"/>
<rect x="153.60" y="498.60" width="36.30" height="7.23" fill="#d8d8d8" shape-rendering="crispEdges"/>
<rect x="189.40" y="498.60" width="36.30" height="7.23" fill="#f0f0f0" shape-rendering="crispEdges"/>
<rect x="225.20" y="498.60" width="36.30" height="7.23" fill="#f0f0f0" shape-rendering="crispEdges"/>
<rect x="46.20" y="505.33" width="36.30" height="7.23" fill="#f6f6f6" shape-rendering="crispEdges"/>
<rect x="82.00" y="505.33" width="36.30" height="7.23" fill="#fdfdfd" shape-rendering="crispEdges"/>
<rect x="117.80" y="505.33" width="36.30" height="7.23" fill="#c0c0c0" shape-rendering="crispEdges"/>
<rect x="153.60" y="505.33" width="36.30" height="7.23" fill="#a0a0a0" shape-rendering="crispEdges"/>
<rect x="189.40" y="505.33" width="36.30" height="7.23" fill="#e0e0e0" shape-rendering="crispEdges"/>
<rect x="225.20" y="505.33" width="36.30" height="7.23" fill="#c8c8c8" shape-rendering="crispEdges"/>
<rect x="46.20" y="512.07" width="36.30" height="7.23" fill="#fdfdfd" shape-rendering="crispEdges"/>
<rect x="82.00" y="512.07" width="36.30" height="7.23" fill="#fdfdfd" shape-rendering="crispEdges"/>
<rect x="117.80" y="512.07" width="36.30" height="7.23" fill="#c0c0c0" shape-rendering="crispEdges"/>
<rect x="153.60" y="512.07" width="36.30" height="7.23" fill="#a8a8a8" shape-rendering="crispEdges"/>
<rect x="189.40" y="512.07" width="36.30" height="7.23" fill="#e0e0e0" shape-rendering="crispEdges"/>
<rect x="225.20" y="512.07" width="36.30" height="7.23" fill="#b8b8b8" shape-rendering="crispEdges"/>
<rect x="46.20" y="518.80" width="36.30" height="7.23" fill="#fdfdfd" shape-rendering="crispEdges"/>
<rect x="82.00" y="518.80" width="36.30" height="7.23" fill="#fdfdfd" shape-rendering="crispEdges"/>
<rect x="117.80" y="518.80" width="36.30" height="7.23" fill="#c8c8c8" shape-rendering="crispEdges"/>
<rect x="153.60" y="518.80" width="36.30" height="7.23" fill="#b8b8b8" shape-rendering="crispEdges"/>
<rect x="189.40" y="518.80" width="36.30" height="7.23" fill="#020202" shape-rendering="crispEdges"/>
<rect x="225.20" y="518.80" width="36.30" height="7.23" fill="#020202" shape-rendering="crispEdges"/>
<rect x="46.20" y="525.53" width="36.30" height="7.23" fill="#fdfdfd" shape-rendering="crispEdges"/>
<rect x="82.00" y="525.53" width="36.30" height="7.23" fill="#fdfdfd" shape-rendering="crispEdges"/>
<rect x="117.80" y="525.53" width="36.30" height="7.23" fill="#e0e0e0" shape-rendering="crispEdges"/>
<rect x="153.60" y="525.53" width="36.30" height="7.23" fill="#e8e8e8" shape-rendering="crispEdges"/>
<rect x="189.40" y="525.53" width="36.30" height="7.23" fill="#686868" shape-rendering="crispEdges"/>
<rect x="225.20" y="525.53" width="36.30" height="7.23" fill="#909090" shape-rendering="crispEdges"/>
<rect x="46.20" y="532.27" width="36.30" height="7.23" fill="#fdfdfd" shape-rendering="crispEdges"/>
<rect x="82.00" y="532.27" width="36.30" height="7.23" fill="#fdfdfd" shape-rendering="crispEdges"/>
<rect x="117.80" y="532.27" width="36.30" height="7.23" fill="#e0e0e0" shape-rendering="crispEdges"/>
<rect x="153.60" y="532.27" width="36.30" height="7.23" fill="#e8e8e8" shape-rendering="crispEdges"/>
<rect x="189.40" y="532.27" width="36.30" height="7.23" fill="#888888" shape-rendering="crispEdges"/>
<rect x="225.20" y="532.27" width="36.30" height="7.23" fill="#606060" shape-rendering="crispEdges"/>
<rect x="46.20" y="539.00" width="36.30" height="7.23" fill="#fdfdfd" shape-rendering="crispEdges"/>
<rect x="82.00" y="539.00" width="36.30" height="7.23" fill="#fdfdfd" shape-rendering="crispEdges"/>
<rect x="117.80" y="539.00" width="36.30" height="7.23" fill="#585858" shape-rendering="crispEdges"/>
<rect x="153.60" y="539.00" width="36.30" height="7.23" fill="#c8c8c8" shape-rendering="crispEdges"/>
<rect x="189.40" y="539.00" width="36.30" height="7.23" fill="#606060" shape-rendering="crispEdges"/>
<rect x="225.20" y="539.00" width="36.30" height="7.23" fill="#606060" shape-rendering="crispEdges"/>
<rect x="46.20" y="545.73" width="36.30" height="7.23" fill="#fdfdfd" shape-rendering="crispEdges"/>
<rect x="82.00" y="545.73" width="36.30" height="7.23" fill="#fdfdfd" shape-rendering="crispEdges"/>
<rect x="117.80" y="545.73" width="36.30" height="7.23" fill="#f4f4f4" shape-rendering="crispEdges"/>
<rect x="153.60" y="545.73" width="36.30" height="7.23" fill="#f8f8f8" shape-rendering="crispEdges"/>
<rect x="189.40" y="545.73" width="36.30" height="7.23" fill="#f0f0f0" shape-rendering="crispEdges"/>
<rect x="225.20" y="545.73" width="36.30" height="7.23" fill="#f0f0f0" shape-rendering="crispEdges"/>
<rect x="46.20" y="552.47" width="36.30" height="7.23" fill="#fdfdfd" shape-rendering="crispEdges"/>
<rect x="82.00" y="552.47" width="36.30" height="7.23" fill="#fdfdfd" shape-rendering="crispEdges"/>
<rect x="117.80" y="552.47" width="36.30" height="7.23" fill="#f4f4f4" shape-rendering="crispEdges"/>
<rect x="153.60" y="552.47" width="36.30" height="7.23" fill="#f8f8f8" shape-rendering="crispEdges"/>
<rect x="189.40" y="552.47" width="36.30" height="7.23" fill="#b0b0b0" shape-rendering="crispEdges"/>
<rect x="225.20" y="552.47" width="36.30" height="7.23" fill="#d0d0d0" shape-rendering="crispEdges"/>
<rect x="46.20" y="559.20" width="36.30" height="7.23" fill="#fdfdfd" shape-rendering="crispEdges"/>
<rect x="82.00" y="559.20" width="36.30" height="7.23" fill="#fdfdfd" shape-rendering="crispEdges"/>
<rect x="117.80" y="559.20" width="36.30" height="7.23" fill="#fdfdfd" shape-rendering="crispEdges"/>
<rect x="153.60" y="559.20" width="36.30" height="7.23" fill="#fdfdfd" shape-rendering="crispEdges"/>
<rect x="189.40" y="559.20" width="36.30" height="7.23" fill="#fdfdfd" shape-rendering="crispEdges"/>
<rect x="225.20" y="559.20" width="36.30" height="7.23" fill="#fdfdfd" shape-rendering="crispEdges"/>
<rect x="46.20" y="565.93" width="36.30" height="7.23" fill="#fdfdfd" shape-rendering="crispEdges"/>
<rect x="82.00" y="565.93" width="36.30" height="7.23" fill="#fdfdfd" shape-rendering="crispEdges"/>
<rect x="117.80" y="565.93" width="36.30" height="7.23" fill="#fafafa" shape-rendering="crispEdges"/>
<rect x="153.60" y="565.93" width="36.30" height="7.23" fill="#fafafa" shape-rendering="crispEdges"/>
<rect x="189.40" y="565.93" width="36.30" height="7.23" fill="#fafafa" shape-rendering="crispEdges"/>
<rect x="225.20" y="565.93" width="36.30" height="7.23" fill="#fafafa" shape-rendering="crispEdges"/>
<rect x="46.20" y="572.67" width="36.30" height="7.23" fill="#fdfdfd" shape-rendering="crispEdges"/>
<rect x="82.00" y="572.67" width="36.30" height="7.23" fill="#fdfdfd" shape-rendering="crispEdges"/>
<rect x="117.80" y="572.67" width="36.30" height="7.23" fill="#fafafa" shape-rendering="crispEdges"/>
<rect x="153.60" y="572.67" width="36.30" height="7.23" fill="#f6f6f6" shape-rendering="crispEdges"/>
<rect x="189.40" y="572.67" width="36.30" height="7.23" fill="#f8f8f8" shape-rendering="crispEdges"/>
<rect x="225.20" y="572.67" width="36.30" height="7.23" fill="#fafafa" shape-rendering="crispEdges"/>
<rect x="46.20" y="579.40" width="36.30" height="7.23" fill="#fdfdfd" shape-rendering="crispEdges"/>
<rect x="82.00" y="579.40" width="36.30" height="7.23" fill="#fdfdfd" shape-rendering="crispEdges"/>
<rect x="117.80" y="579.40" width="36.30" height="7.23" fill="#fdfdfd" shape-rendering="crispEdges"/>
<rect x="153.60" y="579.40" width="36.30" height="7.23" fill="#fdfdfd" shape-rendering="crispEdges"/>
<rect x="189.40" y="579.40" width="36.30" height="7.23" fill="#fdfdfd" shape-rendering="crispEdges"/>
<rect x="225.20" y="579.40" width="36.30" height="7.23" fill="#fdfdfd" shape-rendering="crispEdges"/>
<rect x="46.20" y="586.13" width="36.30" height="7.23" fill="#fdfdfd" shape-rendering="crispEdges"/>
<rect x="82.00" y="586.13" width="36.30" height="7.23" fill="#fdfdfd" shape-rendering="crispEdges"/>
<rect x="117.80" y="586.13" width="36.30" height="7.23" fill="#fdfdfd" shape-rendering="crispEdges"/>
<rect x="153.60" y="586.13" width="36.30" height="7.23" fill="#fdfdfd" shape-rendering="crispEdges"/>
<rect x="189.40" y="586.13" width="36.30" height="7.23" fill="#fdfdfd" shape-rendering="crispEdges"/>
<rect x="225.20" y="586.13" width="36.30" height="7.23" fill="#fdfdfd" shape-rendering="crispEdges"/>
<rect x="46.20" y="592.87" width="36.30" height="7.23" fill="#fdfdfd" shape-rendering="crispEdges"/>
<rect x="82.00" y="592.87" width="36.30" height="7.23" fill="#fdfdfd" shape-rendering="crispEdges"/>
<rect x="117.80" y="592.87" width="36.30" height="7.23" fill="#fdfdfd" shape-rendering="crispEdges"/>
<rect x="153.60" y="592.87" width="36.30" height="7.23" fill="#fdfdfd" shape-rendering="crispEdges"/>
<rect x="189.40" y="592.87" width="36.30" height="7.23" fill="#fdfdfd" shape-rendering="crispEdges"/>
<rect x="225.20" y="592.87" width="36.30" height="7.23" fill="#fdfdfd" shape-rendering="crispEdges"/>
<rect x="46.20" y="599.60" width="36.30" height="7.23" fill="#fdfdfd" shape-rendering="crispEdges"/>
<rect x="82.00" y="599.60" width="36.30" height="7.23" fill="#fdfdfd" shape-rendering="crispEdges"/>
<rect x="117.80" y="599.60" width="36.30" height="7.23" fill="#d0d0d0" shape-rendering="crispEdges"/>
<rect x="153.60" y="599.60" width="36.30" height="7.23" fill="#e8e8e8" shape-rendering="crispEdges"/>
<rect x="189.40" y="599.60" width="36.30" height="7.23" fill="#c8c8c8" shape-rendering="crispEdges"/>
<rect x="225.20" y="599.60" width="36.30" height="7.23" fill="#e8e8e8" shape-rendering="crispEdges"/>
<rect x="46.20" y="606.33" width="36.30" height="7.23" fill="#fdfdfd" shape-rendering="crispEdges"/>
<rect x="82.00" y="606.33" width="36.30" height="7.23" fill="#f6f6f6" shape-rendering="crispEdges"/>
<rect x="117.80" y="606.33" width="36.30" height="7.23" fill="#d8d8d8" shape-rendering="crispEdges"/>
<rect x="153.60" y="606.33" width="36.30" height="7.23" fill="#ececec" shape-rendering="crispEdges"/>
<rect x="189.40" y="606.33" width="36.30" height="7.23" fill="#d0d0d0" shape-rendering="crispEdges"/>
<rect x="225.20" y="606.33" width="36.30" height="7.23" fill="#e8e8e8" shape-rendering="crispEdges"/>
<rect x="46.20" y="613.07" width="36.30" height="7.23" fill="#fdfdfd" shape-rendering="crispEdges"/>
<rect x="82.00" y="613.07" width="36.30" height="7.23" fill="#fdfdfd" shape-rendering="crispEdges"/>
<rect x="117.80" y="613.07" width="36.30" height="7.23" fill="#e0e0e0" shape-rendering="crispEdges"/>
<rect x="153.60" y="613.07" width="36.30" height="7.23" fill="#ececec" shape-rendering="crispEdges"/>
<rect x="189.40" y="613.07" width="36.30" height="7.23" fill="#d8d8d8" shape-rendering="crispEdges"/>
<rect x="225.20" y="613.07" width="36.30" height="7.23" fill="#f0f0f0" shape-rendering="crispEdges"/>
<rect x="46.20" y="619.80" width="36.30" height="7.23" fill="#fdfdfd" shape-rendering="crispEdges"/>
<rect x="82.00" y="619.80" width="36.30" height="7.23" fill="#fdfdfd" shape-rendering="crispEdges"/>
<rect x="117.80" y="619.80" width="36.30" height="7.23" fill="#909090" shape-rendering="crispEdges"/>
<rect x="153.60" y="619.80" width="36.30" height="7.23" fill="#dcdcdc" shape-rendering="crispEdges"/>
<rect x="189.40" y="619.80" width="36.30" height="7.23" fill="#c8c8c8" shape-rendering="crispEdges"/>
<rect x="225.20" y="619.80" width="36.30" height="7.23" fill="#f0f0f0" shape-rendering="crispEdges"/>
<rect x="46.20" y="626.53" width="36.30" height="7.23" fill="#fdfdfd" shape-rendering="crispEdges"/>
<rect x="82.00" y="626.53" width="36.30" height="7.23" fill="#fdfdfd" shape-rendering="crispEdges"/>
<rect x="117.80" y="626.53" width="36.30" height="7.23" fill="#d8d8d8" shape-rendering="crispEdges"/>
<rect x="153.60" y="626.53" width="36.30" height="7.23" fill="#e4e4e4" shape-rendering="crispEdges"/>
<rect x="189.40" y="626.53" width="36.30" height="7.23" fill="#d8d8d8" shape-rendering="crispEdges"/>
<rect x="225.20" y="626.53" width="36.30" height="7.23" fill="#f0f0f0" shape-rendering="crispEdges"/>
<rect x="46.20" y="633.27" width="36.30" height="7.23" fill="#fdfdfd" shape-rendering="crispEdges"/>
<rect x="82.00" y="633.27" width="36.30" height="7.23" fill="#fdfdfd" shape-rendering="crispEdges"/>
<rect x="117.80" y="633.27" width="36.30" height="7.23" fill="#a0a0a0" shape-rendering="crispEdges"/>
<rect x="153.60" y="633.27" width="36.30" height="7.23" fill="#d0d0d0" shape-rendering="crispEdges"/>
<rect x="189.40" y="633.27" width="36.30" height="7.23" fill="#a0a0a0" shape-rendering="crispEdges"/>
<rect x="225.20" y="633.27" width="36.30" height="7.23" fill="#c8c8c8" shape-rendering="crispEdges"/>
<rect x="46.20" y="478.40" width="214.80" height="161.60" fill="none" stroke="#111" stroke-width="1.2"/>
<line x1="46.2" y1="518.8" x2="261.0" y2="518.8" stroke="#111" stroke-width="1"/>
<line x1="46.2" y1="559.2" x2="261.0" y2="559.2" stroke="#111" stroke-width="1"/>
<line x1="46.2" y1="599.6" x2="261.0" y2="599.6" stroke="#111" stroke-width="1"/>
<text x="170.3" y="343.8" font-size="10" font-weight="bold" text-anchor="middle" fill="#1a1a1a" stroke="#111" stroke-width="0.4">**</text>
<text x="169.0" y="452.3" font-size="10" font-weight="bold" text-anchor="middle" fill="#1a1a1a" stroke="#111" stroke-width="0.4">***</text>
<text x="241.7" y="454.1" font-size="10" font-weight="bold" text-anchor="middle" fill="#1a1a1a" stroke="#111" stroke-width="0.4">***</text>
<text x="207.4" y="554.3" font-size="10" font-weight="bold" text-anchor="middle" fill="#1a1a1a" stroke="#111" stroke-width="0.4">**</text>
<text x="241.2" y="553.5" font-size="10" font-weight="bold" text-anchor="middle" fill="#1a1a1a" stroke="#111" stroke-width="0.4">**</text>
<text x="41.7" y="338.2" font-size="7.2" font-weight="bold" text-anchor="end" fill="#1a1a1a" >GM-CSF</text>
<text x="41.7" y="393.1" font-size="7.2" font-weight="bold" text-anchor="end" fill="#1a1a1a" >IFN&#947;</text>
<text x="41.7" y="447.2" font-size="7.2" font-weight="bold" text-anchor="end" fill="#1a1a1a" >IL13</text>
<text x="41.7" y="498.2" font-size="7.2" font-weight="bold" text-anchor="end" fill="#1a1a1a" >IL10</text>
<text x="41.7" y="538.0" font-size="7.2" font-weight="bold" text-anchor="end" fill="#1a1a1a" >IL2</text>
<text x="41.7" y="578.9" font-size="7.2" font-weight="bold" text-anchor="end" fill="#1a1a1a" >IL4</text>
<text x="41.7" y="619.0" font-size="7.2" font-weight="bold" text-anchor="end" fill="#1a1a1a" >TNF&#945;</text>
<text transform="translate(66.8,651.8) rotate(-45)" font-size="7.7" font-weight="bold" text-anchor="end" fill="#1a1a1a" stroke="#1a1a1a" stroke-width="0.3">NT</text>
<text transform="translate(102.6,651.8) rotate(-45)" font-size="7.7" font-weight="bold" text-anchor="end" fill="#1a1a1a" stroke="#1a1a1a" stroke-width="0.3">21.15.</text>
<text transform="translate(138.4,651.8) rotate(-45)" font-size="7.7" font-weight="bold" text-anchor="end" fill="#1a1a1a" stroke="#1a1a1a" stroke-width="0.3">GBBz</text>
<text transform="translate(174.2,651.8) rotate(-45)" font-size="7.7" font-weight="bold" text-anchor="end" fill="#1a1a1a" stroke="#1a1a1a" stroke-width="0.3">15.GBBz</text>
<text transform="translate(210.0,651.8) rotate(-45)" font-size="7.7" font-weight="bold" text-anchor="end" fill="#1a1a1a" stroke="#1a1a1a" stroke-width="0.3">21.GBBz</text>
<text transform="translate(245.8,651.8) rotate(-45)" font-size="7.7" font-weight="bold" text-anchor="end" fill="#1a1a1a" stroke="#1a1a1a" stroke-width="0.3">21.15.GBBz</text>
<defs><linearGradient id="gr" x1="0" y1="0" x2="0" y2="1"><stop offset="0" stop-color="#000"/><stop offset="1" stop-color="#fff"/></linearGradient></defs>
<rect x="273.60" y="312.80" width="8.20" height="139.50" fill="url(#gr)" stroke="#222" stroke-width="0.9"/>
<line x1="279.5" y1="317.0" x2="281.8" y2="317.0" stroke="#222" stroke-width="0.8"/>
<text x="286.7" y="320.2" font-size="8.8" font-weight="normal" text-anchor="start" fill="#1a1a1a" >60,000</text>
<line x1="279.5" y1="339.6" x2="281.8" y2="339.6" stroke="#222" stroke-width="0.8"/>
<text x="286.7" y="342.8" font-size="8.8" font-weight="normal" text-anchor="start" fill="#1a1a1a" >50,000</text>
<line x1="279.5" y1="362.3" x2="281.8" y2="362.3" stroke="#222" stroke-width="0.8"/>
<text x="286.7" y="365.5" font-size="8.8" font-weight="normal" text-anchor="start" fill="#1a1a1a" >40,000</text>
<line x1="279.5" y1="384.9" x2="281.8" y2="384.9" stroke="#222" stroke-width="0.8"/>
<text x="286.7" y="388.1" font-size="8.8" font-weight="normal" text-anchor="start" fill="#1a1a1a" >30,000</text>
<line x1="279.5" y1="407.6" x2="281.8" y2="407.6" stroke="#222" stroke-width="0.8"/>
<text x="286.7" y="410.8" font-size="8.8" font-weight="normal" text-anchor="start" fill="#1a1a1a" >20,000</text>
<line x1="279.5" y1="430.2" x2="281.8" y2="430.2" stroke="#222" stroke-width="0.8"/>
<text x="286.7" y="433.4" font-size="8.8" font-weight="normal" text-anchor="start" fill="#1a1a1a" >10,000</text>
<rect x="273.60" y="478.20" width="8.20" height="139.20" fill="url(#gr)" stroke="#222" stroke-width="0.9"/>
<line x1="279.5" y1="493.7" x2="281.8" y2="493.7" stroke="#222" stroke-width="0.8"/>
<text x="286.7" y="496.9" font-size="8.8" font-weight="normal" text-anchor="start" fill="#1a1a1a" >15,000</text>
<line x1="279.5" y1="514.4" x2="281.8" y2="514.4" stroke="#222" stroke-width="0.8"/>
<text x="286.7" y="517.6" font-size="8.8" font-weight="normal" text-anchor="start" fill="#1a1a1a" >12,500</text>
<line x1="279.5" y1="535.1" x2="281.8" y2="535.1" stroke="#222" stroke-width="0.8"/>
<text x="286.7" y="538.3" font-size="8.8" font-weight="normal" text-anchor="start" fill="#1a1a1a" >10,000</text>
<line x1="279.5" y1="555.8" x2="281.8" y2="555.8" stroke="#222" stroke-width="0.8"/>
<text x="286.7" y="559.0" font-size="8.8" font-weight="normal" text-anchor="start" fill="#1a1a1a" >7,500</text>
<line x1="279.5" y1="576.5" x2="281.8" y2="576.5" stroke="#222" stroke-width="0.8"/>
<text x="286.7" y="579.7" font-size="8.8" font-weight="normal" text-anchor="start" fill="#1a1a1a" >5,000</text>
<line x1="279.5" y1="597.2" x2="281.8" y2="597.2" stroke="#222" stroke-width="0.8"/>
<text x="286.7" y="600.4" font-size="8.8" font-weight="normal" text-anchor="start" fill="#1a1a1a" >2,500</text>
<text x="274.8" y="637.5" font-size="13.3" font-weight="normal" text-anchor="start" fill="#1a1a1a" >pg/mL</text>
<text x="438.4" y="338.8" font-size="9.8" font-weight="bold" text-anchor="middle" fill="#1a1a1a" >CD4</text>
<line x1="380.0" y1="396.0" x2="380.0" y2="411.5" stroke="#222" stroke-width="1"/>
<line x1="377.7" y1="396.0" x2="382.3" y2="396.0" stroke="#222" stroke-width="1"/>
<rect x="372.90" y="411.50" width="14.20" height="42.10" fill="#ffffff" stroke="#222" stroke-width="1.3"/>
<line x1="395.4" y1="410.8" x2="395.4" y2="423.0" stroke="#222" stroke-width="1"/>
<line x1="393.1" y1="410.8" x2="397.7" y2="410.8" stroke="#222" stroke-width="1"/>
<rect x="388.60" y="423.00" width="13.50" height="30.60" fill="#cfcfcf" stroke="#222" stroke-width="1.3"/>
<line x1="410.9" y1="392.0" x2="410.9" y2="407.0" stroke="#222" stroke-width="1"/>
<line x1="408.6" y1="392.0" x2="413.2" y2="392.0" stroke="#222" stroke-width="1"/>
<rect x="403.90" y="407.00" width="14.00" height="46.60" fill="#d6d6d6" stroke="#222" stroke-width="1.3"/>
<line x1="426.6" y1="419.0" x2="426.6" y2="429.4" stroke="#222" stroke-width="1"/>
<line x1="424.3" y1="419.0" x2="428.9" y2="419.0" stroke="#222" stroke-width="1"/>
<rect x="419.60" y="429.40" width="14.10" height="24.20" fill="#d6d6d6" stroke="#222" stroke-width="1.3"/>
<line x1="450.1" y1="412.0" x2="450.1" y2="425.6" stroke="#222" stroke-width="1"/>
<line x1="447.8" y1="412.0" x2="452.4" y2="412.0" stroke="#222" stroke-width="1"/>
<rect x="443.30" y="425.60" width="13.60" height="28.00" fill="#ffffff" stroke="#222" stroke-width="1.3"/>
<line x1="465.5" y1="433.3" x2="465.5" y2="443.5" stroke="#222" stroke-width="1"/>
<line x1="463.2" y1="433.3" x2="467.8" y2="433.3" stroke="#222" stroke-width="1"/>
<rect x="458.60" y="443.50" width="13.80" height="10.10" fill="#cfcfcf" stroke="#222" stroke-width="1.3"/>
<line x1="481.5" y1="398.7" x2="481.5" y2="422.3" stroke="#222" stroke-width="1"/>
<line x1="479.2" y1="398.7" x2="483.8" y2="398.7" stroke="#222" stroke-width="1"/>
<rect x="474.40" y="422.30" width="14.20" height="31.30" fill="#d6d6d6" stroke="#222" stroke-width="1.3"/>
<line x1="497.0" y1="441.0" x2="497.0" y2="447.7" stroke="#222" stroke-width="1"/>
<line x1="494.7" y1="441.0" x2="499.3" y2="441.0" stroke="#222" stroke-width="1"/>
<rect x="490.00" y="447.70" width="14.00" height="5.90" fill="#d6d6d6" stroke="#222" stroke-width="1.3"/>
<line x1="364.1" y1="351.1" x2="364.1" y2="454.2" stroke="#222" stroke-width="1.3"/>
<line x1="363.5" y1="453.6" x2="513.0" y2="453.6" stroke="#222" stroke-width="1.3"/>
<line x1="361.1" y1="453.6" x2="364.1" y2="453.6" stroke="#222" stroke-width="1"/>
<text x="360.5" y="456.1" font-size="7" font-weight="bold" text-anchor="end" fill="#1a1a1a" >0</text>
<line x1="361.1" y1="433.2" x2="364.1" y2="433.2" stroke="#222" stroke-width="1"/>
<text x="360.5" y="435.7" font-size="7" font-weight="bold" text-anchor="end" fill="#1a1a1a" >20</text>
<line x1="361.1" y1="412.8" x2="364.1" y2="412.8" stroke="#222" stroke-width="1"/>
<text x="360.5" y="415.3" font-size="7" font-weight="bold" text-anchor="end" fill="#1a1a1a" >40</text>
<line x1="361.1" y1="392.4" x2="364.1" y2="392.4" stroke="#222" stroke-width="1"/>
<text x="360.5" y="394.9" font-size="7" font-weight="bold" text-anchor="end" fill="#1a1a1a" >60</text>
<line x1="361.1" y1="372.0" x2="364.1" y2="372.0" stroke="#222" stroke-width="1"/>
<text x="360.5" y="374.5" font-size="7" font-weight="bold" text-anchor="end" fill="#1a1a1a" >80</text>
<line x1="361.1" y1="351.6" x2="364.1" y2="351.6" stroke="#222" stroke-width="1"/>
<text x="360.5" y="354.1" font-size="7" font-weight="bold" text-anchor="end" fill="#1a1a1a" >100</text>
<line x1="403.0" y1="453.6" x2="403.0" y2="456.6" stroke="#222" stroke-width="1"/>
<line x1="473.0" y1="453.6" x2="473.0" y2="456.6" stroke="#222" stroke-width="1"/>
<circle cx="379.8" cy="389.4" r="2.0" fill="#1a1a1a" stroke="none" stroke-width="0.8"/>
<circle cx="374.0" cy="407.3" r="2.0" fill="#1a1a1a" stroke="none" stroke-width="0.8"/>
<circle cx="385.6" cy="405.8" r="2.0" fill="#1a1a1a" stroke="none" stroke-width="0.8"/>
<circle cx="379.8" cy="412.0" r="2.0" fill="#1a1a1a" stroke="none" stroke-width="0.8"/>
<circle cx="379.8" cy="418.5" r="2.0" fill="#1a1a1a" stroke="none" stroke-width="0.8"/>
<circle cx="379.8" cy="432.9" r="2.0" fill="#1a1a1a" stroke="none" stroke-width="0.8"/>
<rect x="393.4" y="404.4" width="3.9" height="3.9" fill="#1a1a1a" stroke="none" stroke-width="0.8"/>
<rect x="393.4" y="411.8" width="3.9" height="3.9" fill="#1a1a1a" stroke="none" stroke-width="0.8"/>
<rect x="387.7" y="420.8" width="3.9" height="3.9" fill="#1a1a1a" stroke="none" stroke-width="0.8"/>
<rect x="399.6" y="418.9" width="3.9" height="3.9" fill="#1a1a1a" stroke="none" stroke-width="0.8"/>
<rect x="393.4" y="428.9" width="3.9" height="3.9" fill="#1a1a1a" stroke="none" stroke-width="0.8"/>
<rect x="393.4" y="437.1" width="3.9" height="3.9" fill="#1a1a1a" stroke="none" stroke-width="0.8"/>
<polygon points="411.2,385.7 409.0,389.7 413.4,389.7" fill="#1a1a1a" stroke="none" stroke-width="0.8"/>
<polygon points="405.4,399.7 403.2,403.7 407.6,403.7" fill="#1a1a1a" stroke="none" stroke-width="0.8"/>
<polygon points="417.0,399.7 414.8,403.7 419.2,403.7" fill="#1a1a1a" stroke="none" stroke-width="0.8"/>
<polygon points="405.4,406.5 403.2,410.5 407.6,410.5" fill="#1a1a1a" stroke="none" stroke-width="0.8"/>
<polygon points="417.0,404.0 414.8,408.0 419.2,408.0" fill="#1a1a1a" stroke="none" stroke-width="0.8"/>
<polygon points="411.2,426.5 409.0,430.5 413.4,430.5" fill="#1a1a1a" stroke="none" stroke-width="0.8"/>
<polygon points="420.8,418.6 418.4,421.0 420.8,423.4 423.2,421.0" fill="#1a1a1a" stroke="none" stroke-width="0.8"/>
<polygon points="432.3,416.8 429.9,419.2 432.3,421.6 434.7,419.2" fill="#1a1a1a" stroke="none" stroke-width="0.8"/>
<polygon points="420.8,423.6 418.4,426.0 420.8,428.4 423.2,426.0" fill="#1a1a1a" stroke="none" stroke-width="0.8"/>
<polygon points="432.3,425.6 429.9,428.0 432.3,430.4 434.7,428.0" fill="#1a1a1a" stroke="none" stroke-width="0.8"/>
<polygon points="426.5,442.4 424.1,444.8 426.5,447.2 428.9,444.8" fill="#1a1a1a" stroke="none" stroke-width="0.8"/>
<circle cx="444.4" cy="414.0" r="2.0" fill="#1a1a1a" stroke="none" stroke-width="0.8"/>
<circle cx="456.0" cy="410.8" r="2.0" fill="#1a1a1a" stroke="none" stroke-width="0.8"/>
<circle cx="450.2" cy="422.3" r="2.0" fill="#1a1a1a" stroke="none" stroke-width="0.8"/>
<circle cx="444.4" cy="428.0" r="2.0" fill="#1a1a1a" stroke="none" stroke-width="0.8"/>
<circle cx="456.0" cy="427.5" r="2.0" fill="#1a1a1a" stroke="none" stroke-width="0.8"/>
<circle cx="450.2" cy="446.3" r="2.0" fill="#1a1a1a" stroke="none" stroke-width="0.8"/>
<rect x="463.7" y="431.8" width="3.9" height="3.9" fill="#1a1a1a" stroke="none" stroke-width="0.8"/>
<rect x="457.9" y="437.4" width="3.9" height="3.9" fill="#1a1a1a" stroke="none" stroke-width="0.8"/>
<rect x="463.7" y="439.1" width="3.9" height="3.9" fill="#1a1a1a" stroke="none" stroke-width="0.8"/>
<rect x="457.9" y="443.4" width="3.9" height="3.9" fill="#1a1a1a" stroke="none" stroke-width="0.8"/>
<rect x="469.4" y="441.4" width="3.9" height="3.9" fill="#1a1a1a" stroke="none" stroke-width="0.8"/>
<rect x="463.7" y="448.7" width="3.9" height="3.9" fill="#1a1a1a" stroke="none" stroke-width="0.8"/>
<polygon points="481.5,385.7 479.3,389.7 483.7,389.7" fill="#1a1a1a" stroke="none" stroke-width="0.8"/>
<polygon points="481.5,402.1 479.3,406.1 483.7,406.1" fill="#1a1a1a" stroke="none" stroke-width="0.8"/>
<polygon points="475.8,419.4 473.6,423.4 478.0,423.4" fill="#1a1a1a" stroke="none" stroke-width="0.8"/>
<polygon points="487.3,419.4 485.1,423.4 489.5,423.4" fill="#1a1a1a" stroke="none" stroke-width="0.8"/>
<polygon points="474.4,442.5 472.2,446.5 476.6,446.5" fill="#1a1a1a" stroke="none" stroke-width="0.8"/>
<polygon points="487.3,442.5 485.1,446.5 489.5,446.5" fill="#1a1a1a" stroke="none" stroke-width="0.8"/>
<polygon points="497.0,433.2 494.6,435.6 497.0,438.0 499.4,435.6" fill="#1a1a1a" stroke="none" stroke-width="0.8"/>
<polygon points="497.0,442.4 494.6,444.8 497.0,447.2 499.4,444.8" fill="#1a1a1a" stroke="none" stroke-width="0.8"/>
<polygon points="502.7,443.9 500.3,446.3 502.7,448.7 505.1,446.3" fill="#1a1a1a" stroke="none" stroke-width="0.8"/>
<polygon points="491.0,448.2 488.6,450.6 491.0,453.0 493.4,450.6" fill="#1a1a1a" stroke="none" stroke-width="0.8"/>
<polygon points="497.0,446.6 494.6,449.0 497.0,451.4 499.4,449.0" fill="#1a1a1a" stroke="none" stroke-width="0.8"/>
<polygon points="502.7,448.2 500.3,450.6 502.7,453.0 505.1,450.6" fill="#1a1a1a" stroke="none" stroke-width="0.8"/>
<line x1="377.5" y1="381.5" x2="425.0" y2="381.5" stroke="#444" stroke-width="1.1"/>
<text x="400.8" y="382.1" font-size="11" font-weight="bold" text-anchor="middle" fill="#1a1a1a" stroke="#111" stroke-width="0.4">*</text>
<line x1="445.6" y1="364.5" x2="493.0" y2="364.5" stroke="#444" stroke-width="1.1"/>
<text x="469.0" y="365.7" font-size="11" font-weight="bold" text-anchor="middle" fill="#1a1a1a" stroke="#111" stroke-width="0.4">*</text>
<line x1="445.6" y1="381.5" x2="467.0" y2="381.5" stroke="#444" stroke-width="1.1"/>
<text x="457.0" y="382.1" font-size="11" font-weight="bold" text-anchor="middle" fill="#1a1a1a" stroke="#111" stroke-width="0.4">*</text>
<text transform="translate(342.3,402.6) rotate(-90)" font-size="8.25" font-weight="bold" text-anchor="middle" fill="#1a1a1a" stroke="#1a1a1a" stroke-width="0.35">Percentage</text>
<text x="439.7" y="481.7" font-size="9.8" font-weight="bold" text-anchor="middle" fill="#1a1a1a" >CD8</text>
<line x1="379.1" y1="529.5" x2="379.1" y2="545.6" stroke="#222" stroke-width="1"/>
<line x1="376.8" y1="529.5" x2="381.4" y2="529.5" stroke="#222" stroke-width="1"/>
<rect x="372.00" y="545.60" width="14.20" height="51.60" fill="#ffffff" stroke="#222" stroke-width="1.3"/>
<line x1="395.3" y1="524.4" x2="395.3" y2="535.3" stroke="#222" stroke-width="1"/>
<line x1="393.0" y1="524.4" x2="397.6" y2="524.4" stroke="#222" stroke-width="1"/>
<rect x="388.20" y="535.30" width="14.20" height="61.90" fill="#cfcfcf" stroke="#222" stroke-width="1.3"/>
<line x1="411.5" y1="535.3" x2="411.5" y2="550.5" stroke="#222" stroke-width="1"/>
<line x1="409.2" y1="535.3" x2="413.8" y2="535.3" stroke="#222" stroke-width="1"/>
<rect x="404.60" y="550.50" width="13.80" height="46.70" fill="#d6d6d6" stroke="#222" stroke-width="1.3"/>
<line x1="427.8" y1="516.2" x2="427.8" y2="528.5" stroke="#222" stroke-width="1"/>
<line x1="425.4" y1="516.2" x2="430.1" y2="516.2" stroke="#222" stroke-width="1"/>
<rect x="420.60" y="528.50" width="14.30" height="68.70" fill="#d6d6d6" stroke="#222" stroke-width="1.3"/>
<line x1="451.9" y1="517.2" x2="451.9" y2="531.6" stroke="#222" stroke-width="1"/>
<line x1="449.6" y1="517.2" x2="454.2" y2="517.2" stroke="#222" stroke-width="1"/>
<rect x="444.80" y="531.60" width="14.20" height="65.60" fill="#ffffff" stroke="#222" stroke-width="1.3"/>
<line x1="468.2" y1="500.8" x2="468.2" y2="513.5" stroke="#222" stroke-width="1"/>
<line x1="465.9" y1="500.8" x2="470.5" y2="500.8" stroke="#222" stroke-width="1"/>
<rect x="461.10" y="513.50" width="14.20" height="83.70" fill="#cfcfcf" stroke="#222" stroke-width="1.3"/>
<line x1="484.6" y1="508.0" x2="484.6" y2="534.0" stroke="#222" stroke-width="1"/>
<line x1="482.3" y1="508.0" x2="486.9" y2="508.0" stroke="#222" stroke-width="1"/>
<rect x="477.50" y="534.00" width="14.20" height="63.20" fill="#d6d6d6" stroke="#222" stroke-width="1.3"/>
<line x1="500.6" y1="496.7" x2="500.6" y2="506.5" stroke="#222" stroke-width="1"/>
<line x1="498.3" y1="496.7" x2="502.9" y2="496.7" stroke="#222" stroke-width="1"/>
<rect x="493.50" y="506.50" width="14.20" height="90.70" fill="#d6d6d6" stroke="#222" stroke-width="1.3"/>
<line x1="362.4" y1="494.1" x2="362.4" y2="597.8" stroke="#222" stroke-width="1.3"/>
<line x1="361.8" y1="597.2" x2="517.2" y2="597.2" stroke="#222" stroke-width="1.3"/>
<line x1="359.4" y1="597.2" x2="362.4" y2="597.2" stroke="#222" stroke-width="1"/>
<text x="358.8" y="599.7" font-size="7" font-weight="bold" text-anchor="end" fill="#1a1a1a" >0</text>
<line x1="359.4" y1="576.7" x2="362.4" y2="576.7" stroke="#222" stroke-width="1"/>
<text x="358.8" y="579.2" font-size="7" font-weight="bold" text-anchor="end" fill="#1a1a1a" >20</text>
<line x1="359.4" y1="556.2" x2="362.4" y2="556.2" stroke="#222" stroke-width="1"/>
<text x="358.8" y="558.7" font-size="7" font-weight="bold" text-anchor="end" fill="#1a1a1a" >40</text>
<line x1="359.4" y1="535.6" x2="362.4" y2="535.6" stroke="#222" stroke-width="1"/>
<text x="358.8" y="538.1" font-size="7" font-weight="bold" text-anchor="end" fill="#1a1a1a" >60</text>
<line x1="359.4" y1="515.1" x2="362.4" y2="515.1" stroke="#222" stroke-width="1"/>
<text x="358.8" y="517.6" font-size="7" font-weight="bold" text-anchor="end" fill="#1a1a1a" >80</text>
<line x1="359.4" y1="494.6" x2="362.4" y2="494.6" stroke="#222" stroke-width="1"/>
<text x="358.8" y="497.1" font-size="7" font-weight="bold" text-anchor="end" fill="#1a1a1a" >100</text>
<line x1="403.6" y1="597.2" x2="403.6" y2="600.2" stroke="#222" stroke-width="1"/>
<line x1="476.3" y1="597.2" x2="476.3" y2="600.2" stroke="#222" stroke-width="1"/>
<circle cx="379.0" cy="523.0" r="2.0" fill="#1a1a1a" stroke="none" stroke-width="0.8"/>
<circle cx="379.0" cy="536.3" r="2.0" fill="#1a1a1a" stroke="none" stroke-width="0.8"/>
<circle cx="372.9" cy="543.9" r="2.0" fill="#1a1a1a" stroke="none" stroke-width="0.8"/>
<circle cx="372.9" cy="549.0" r="2.0" fill="#1a1a1a" stroke="none" stroke-width="0.8"/>
<circle cx="384.8" cy="547.0" r="2.0" fill="#1a1a1a" stroke="none" stroke-width="0.8"/>
<circle cx="379.0" cy="568.2" r="2.0" fill="#1a1a1a" stroke="none" stroke-width="0.8"/>
<rect x="393.1" y="514.2" width="3.9" height="3.9" fill="#1a1a1a" stroke="none" stroke-width="0.8"/>
<rect x="393.1" y="521.8" width="3.9" height="3.9" fill="#1a1a1a" stroke="none" stroke-width="0.8"/>
<rect x="387.4" y="532.8" width="3.9" height="3.9" fill="#1a1a1a" stroke="none" stroke-width="0.8"/>
<rect x="399.1" y="532.8" width="3.9" height="3.9" fill="#1a1a1a" stroke="none" stroke-width="0.8"/>
<rect x="393.1" y="543.0" width="3.9" height="3.9" fill="#1a1a1a" stroke="none" stroke-width="0.8"/>
<rect x="393.1" y="550.8" width="3.9" height="3.9" fill="#1a1a1a" stroke="none" stroke-width="0.8"/>
<polygon points="411.5,522.7 409.3,526.7 413.7,526.7" fill="#1a1a1a" stroke="none" stroke-width="0.8"/>
<polygon points="405.7,546.7 403.5,550.7 407.9,550.7" fill="#1a1a1a" stroke="none" stroke-width="0.8"/>
<polygon points="417.6,544.1 415.4,548.1 419.8,548.1" fill="#1a1a1a" stroke="none" stroke-width="0.8"/>
<polygon points="405.7,550.9 403.5,554.9 407.9,554.9" fill="#1a1a1a" stroke="none" stroke-width="0.8"/>
<polygon points="417.6,550.9 415.4,554.9 419.8,554.9" fill="#1a1a1a" stroke="none" stroke-width="0.8"/>
<polygon points="411.5,567.9 409.3,571.9 413.7,571.9" fill="#1a1a1a" stroke="none" stroke-width="0.8"/>
<polygon points="427.9,505.2 425.5,507.6 427.9,510.0 430.3,507.6" fill="#1a1a1a" stroke="none" stroke-width="0.8"/>
<polygon points="427.9,522.0 425.5,524.4 427.9,526.8 430.3,524.4" fill="#1a1a1a" stroke="none" stroke-width="0.8"/>
<polygon points="422.1,527.1 419.7,529.5 422.1,531.9 424.5,529.5" fill="#1a1a1a" stroke="none" stroke-width="0.8"/>
<polygon points="433.4,526.6 431.0,529.0 433.4,531.4 435.8,529.0" fill="#1a1a1a" stroke="none" stroke-width="0.8"/>
<polygon points="427.9,532.9 425.5,535.3 427.9,537.7 430.3,535.3" fill="#1a1a1a" stroke="none" stroke-width="0.8"/>
<polygon points="427.9,537.4 425.5,539.8 427.9,542.2 430.3,539.8" fill="#1a1a1a" stroke="none" stroke-width="0.8"/>
<circle cx="451.8" cy="507.4" r="2.0" fill="#1a1a1a" stroke="none" stroke-width="0.8"/>
<circle cx="451.8" cy="525.0" r="2.0" fill="#1a1a1a" stroke="none" stroke-width="0.8"/>
<circle cx="451.8" cy="530.6" r="2.0" fill="#1a1a1a" stroke="none" stroke-width="0.8"/>
<circle cx="451.8" cy="535.7" r="2.0" fill="#1a1a1a" stroke="none" stroke-width="0.8"/>
<circle cx="451.8" cy="540.8" r="2.0" fill="#1a1a1a" stroke="none" stroke-width="0.8"/>
<circle cx="451.8" cy="547.0" r="2.0" fill="#1a1a1a" stroke="none" stroke-width="0.8"/>
<rect x="466.4" y="499.9" width="3.9" height="3.9" fill="#1a1a1a" stroke="none" stroke-width="0.8"/>
<rect x="466.4" y="503.4" width="3.9" height="3.9" fill="#1a1a1a" stroke="none" stroke-width="0.8"/>
<rect x="466.4" y="507.1" width="3.9" height="3.9" fill="#1a1a1a" stroke="none" stroke-width="0.8"/>
<rect x="466.4" y="510.1" width="3.9" height="3.9" fill="#1a1a1a" stroke="none" stroke-width="0.8"/>
<rect x="460.6" y="516.3" width="3.9" height="3.9" fill="#1a1a1a" stroke="none" stroke-width="0.8"/>
<rect x="460.6" y="519.8" width="3.9" height="3.9" fill="#1a1a1a" stroke="none" stroke-width="0.8"/>
<rect x="472.1" y="516.3" width="3.9" height="3.9" fill="#1a1a1a" stroke="none" stroke-width="0.8"/>
<polygon points="478.5,505.1 476.3,509.1 480.7,509.1" fill="#1a1a1a" stroke="none" stroke-width="0.8"/>
<polygon points="490.4,504.3 488.2,508.3 492.6,508.3" fill="#1a1a1a" stroke="none" stroke-width="0.8"/>
<polygon points="490.4,527.7 488.2,531.7 492.6,531.7" fill="#1a1a1a" stroke="none" stroke-width="0.8"/>
<polygon points="478.5,531.7 476.3,535.7 480.7,535.7" fill="#1a1a1a" stroke="none" stroke-width="0.8"/>
<polygon points="484.7,550.5 482.5,554.5 486.9,554.5" fill="#1a1a1a" stroke="none" stroke-width="0.8"/>
<polygon points="484.7,565.9 482.5,569.9 486.9,569.9" fill="#1a1a1a" stroke="none" stroke-width="0.8"/>
<polygon points="495.0,494.6 492.6,497.0 495.0,499.4 497.4,497.0" fill="#1a1a1a" stroke="none" stroke-width="0.8"/>
<polygon points="495.0,499.4 492.6,501.8 495.0,504.2 497.4,501.8" fill="#1a1a1a" stroke="none" stroke-width="0.8"/>
<polygon points="506.9,497.0 504.5,499.4 506.9,501.8 509.3,499.4" fill="#1a1a1a" stroke="none" stroke-width="0.8"/>
<polygon points="495.0,504.6 492.6,507.0 495.0,509.4 497.4,507.0" fill="#1a1a1a" stroke="none" stroke-width="0.8"/>
<polygon points="506.9,502.6 504.5,505.0 506.9,507.4 509.3,505.0" fill="#1a1a1a" stroke="none" stroke-width="0.8"/>
<polygon points="500.7,517.6 498.3,520.0 500.7,522.4 503.1,520.0" fill="#1a1a1a" stroke="none" stroke-width="0.8"/>
<line x1="379.0" y1="497.5" x2="425.8" y2="497.5" stroke="#444" stroke-width="1.1"/>
<text x="402.3" y="498.6" font-size="11" font-weight="bold" text-anchor="middle" fill="#1a1a1a" stroke="#111" stroke-width="0.4">*</text>
<line x1="449.6" y1="485.3" x2="497.1" y2="485.3" stroke="#444" stroke-width="1.1"/>
<text x="473.0" y="486.9" font-size="11" font-weight="bold" text-anchor="middle" fill="#1a1a1a" stroke="#111" stroke-width="0.4">**</text>
<line x1="450.4" y1="497.5" x2="467.2" y2="497.5" stroke="#444" stroke-width="1.1"/>
<text x="458.3" y="498.6" font-size="11" font-weight="bold" text-anchor="middle" fill="#1a1a1a" stroke="#111" stroke-width="0.4">*</text>
<text transform="translate(340.6,545.9) rotate(-90)" font-size="8.25" font-weight="bold" text-anchor="middle" fill="#1a1a1a" stroke="#1a1a1a" stroke-width="0.35">Percentage</text>
<text x="403.3" y="608.8" font-size="7.8" font-weight="bold" text-anchor="middle" fill="#1a1a1a" >Baseline</text>
<text x="475.8" y="608.8" font-size="7.8" font-weight="bold" text-anchor="middle" fill="#1a1a1a" >Tumor-cell stimulations</text>
<circle cx="377.7" cy="621.0" r="2.1" fill="#1a1a1a" stroke="none" stroke-width="0.8"/>
<text x="388.0" y="623.9" font-size="8" font-weight="bold" text-anchor="start" fill="#1a1a1a" >GBBz</text>
<rect x="375.7" y="634.0" width="4.0" height="4.0" fill="#1a1a1a" stroke="none" stroke-width="0.8"/>
<text x="388.0" y="638.9" font-size="8" font-weight="bold" text-anchor="start" fill="#1a1a1a" >15.GBBz</text>
<polygon points="450.0,618.6 447.7,622.8 452.3,622.8" fill="#1a1a1a" stroke="none" stroke-width="0.8"/>
<text x="460.8" y="623.9" font-size="8" font-weight="bold" text-anchor="start" fill="#1a1a1a" >21.GBBz</text>
<polygon points="450.0,633.7 447.7,636.0 450.0,638.3 452.3,636.0" fill="#1a1a1a" stroke="none" stroke-width="0.8"/>
<text x="460.8" y="638.9" font-size="8" font-weight="bold" text-anchor="start" fill="#1a1a1a" >21.15.GBBz</text>
</svg>
</body></html>
